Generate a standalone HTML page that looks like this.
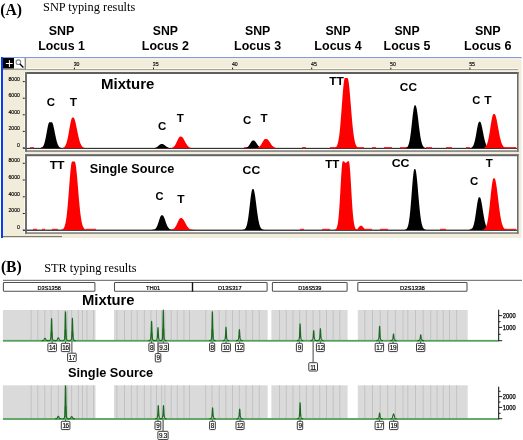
<!DOCTYPE html>
<html><head><meta charset="utf-8"><title>SNP and STR typing results</title>
<style>html,body{margin:0;padding:0;background:#fff;overflow:hidden;}svg{display:block;}</style></head>
<body><svg width="523" height="440" viewBox="0 0 523 440"><text x="0.2" y="15.2" font-family="Liberation Serif, Times New Roman, serif" font-size="16.2" font-weight="bold" text-anchor="start" fill="#000"  textLength="21.8" lengthAdjust="spacingAndGlyphs">(A)</text>
<text x="43" y="10.9" font-family="Liberation Serif, Times New Roman, serif" font-size="12.4" font-weight="normal" text-anchor="start" fill="#000"  textLength="92.3" lengthAdjust="spacingAndGlyphs">SNP typing results</text>
<text x="61.5" y="34.7" font-family="Liberation Sans, Arial, sans-serif" font-size="12.5" font-weight="bold" text-anchor="middle" fill="#000"  textLength="25.5" lengthAdjust="spacingAndGlyphs">SNP</text>
<text x="61.5" y="50.1" font-family="Liberation Sans, Arial, sans-serif" font-size="12.5" font-weight="bold" text-anchor="middle" fill="#000"  textLength="46.6" lengthAdjust="spacingAndGlyphs">Locus 1</text>
<text x="165.4" y="34.7" font-family="Liberation Sans, Arial, sans-serif" font-size="12.5" font-weight="bold" text-anchor="middle" fill="#000"  textLength="25.1" lengthAdjust="spacingAndGlyphs">SNP</text>
<text x="165.4" y="50.1" font-family="Liberation Sans, Arial, sans-serif" font-size="12.5" font-weight="bold" text-anchor="middle" fill="#000"  textLength="47.1" lengthAdjust="spacingAndGlyphs">Locus 2</text>
<text x="257.6" y="34.7" font-family="Liberation Sans, Arial, sans-serif" font-size="12.5" font-weight="bold" text-anchor="middle" fill="#000"  textLength="25.3" lengthAdjust="spacingAndGlyphs">SNP</text>
<text x="257.6" y="50.1" font-family="Liberation Sans, Arial, sans-serif" font-size="12.5" font-weight="bold" text-anchor="middle" fill="#000"  textLength="47.1" lengthAdjust="spacingAndGlyphs">Locus 3</text>
<text x="338.0" y="34.7" font-family="Liberation Sans, Arial, sans-serif" font-size="12.5" font-weight="bold" text-anchor="middle" fill="#000"  textLength="25.2" lengthAdjust="spacingAndGlyphs">SNP</text>
<text x="338.0" y="50.1" font-family="Liberation Sans, Arial, sans-serif" font-size="12.5" font-weight="bold" text-anchor="middle" fill="#000"  textLength="47.3" lengthAdjust="spacingAndGlyphs">Locus 4</text>
<text x="407.0" y="34.7" font-family="Liberation Sans, Arial, sans-serif" font-size="12.5" font-weight="bold" text-anchor="middle" fill="#000"  textLength="25.2" lengthAdjust="spacingAndGlyphs">SNP</text>
<text x="407.0" y="50.1" font-family="Liberation Sans, Arial, sans-serif" font-size="12.5" font-weight="bold" text-anchor="middle" fill="#000"  textLength="46.9" lengthAdjust="spacingAndGlyphs">Locus 5</text>
<text x="487.8" y="34.7" font-family="Liberation Sans, Arial, sans-serif" font-size="12.5" font-weight="bold" text-anchor="middle" fill="#000"  textLength="25.8" lengthAdjust="spacingAndGlyphs">SNP</text>
<text x="487.8" y="50.1" font-family="Liberation Sans, Arial, sans-serif" font-size="12.5" font-weight="bold" text-anchor="middle" fill="#000"  textLength="47.5" lengthAdjust="spacingAndGlyphs">Locus 6</text>
<rect x="1" y="57" width="520.5" height="181" fill="#F2ECDA"/>
<rect x="1" y="57" width="520.5" height="1.3" fill="#7f9be6"/>
<rect x="1" y="57" width="2" height="181" fill="#0a3cf0"/>
<rect x="3" y="58.3" width="518" height="1" fill="#fdfbe8"/>
<rect x="26" y="68" width="492" height="1" fill="#fbfbee"/>
<rect x="26" y="69" width="492" height="1.4" fill="#a3a393"/>
<rect x="26" y="70.4" width="492" height="1" fill="#fbfbee"/>
<rect x="3" y="58" width="11" height="10.6" fill="#000"/>
<rect x="5.9" y="63" width="6.8" height="1" fill="#fff"/>
<rect x="8.9" y="60.2" width="1" height="6.8" fill="#fff"/>
<rect x="14" y="58" width="11.3" height="10.6" fill="#fff"/>
<rect x="24.6" y="58" width="1.4" height="12" fill="#8a8a80"/>
<rect x="3" y="68.6" width="23" height="1.4" fill="#9a9a90"/>
<circle cx="18.4" cy="62.2" r="2.3" fill="none" stroke="#888" stroke-width="1.1"/>
<line x1="19.9" y1="64.1" x2="23.4" y2="67.4" stroke="#000" stroke-width="1.4"/>
<rect x="73.9" y="67.6" width="1" height="1.8" fill="#222"/>
<text x="73.7" y="66.1" font-family="Liberation Sans, Arial, sans-serif" font-size="5.4" font-weight="normal" text-anchor="start" fill="#000" stroke="#000" stroke-width="0.15" textLength="5.8" lengthAdjust="spacingAndGlyphs">30</text>
<rect x="153.0" y="67.6" width="1" height="1.8" fill="#222"/>
<text x="152.8" y="66.1" font-family="Liberation Sans, Arial, sans-serif" font-size="5.4" font-weight="normal" text-anchor="start" fill="#000" stroke="#000" stroke-width="0.15" textLength="5.8" lengthAdjust="spacingAndGlyphs">35</text>
<rect x="232.1" y="67.6" width="1" height="1.8" fill="#222"/>
<text x="231.9" y="66.1" font-family="Liberation Sans, Arial, sans-serif" font-size="5.4" font-weight="normal" text-anchor="start" fill="#000" stroke="#000" stroke-width="0.15" textLength="5.8" lengthAdjust="spacingAndGlyphs">40</text>
<rect x="311.2" y="67.6" width="1" height="1.8" fill="#222"/>
<text x="311.0" y="66.1" font-family="Liberation Sans, Arial, sans-serif" font-size="5.4" font-weight="normal" text-anchor="start" fill="#000" stroke="#000" stroke-width="0.15" textLength="5.8" lengthAdjust="spacingAndGlyphs">45</text>
<rect x="390.3" y="67.6" width="1" height="1.8" fill="#222"/>
<text x="390.1" y="66.1" font-family="Liberation Sans, Arial, sans-serif" font-size="5.4" font-weight="normal" text-anchor="start" fill="#000" stroke="#000" stroke-width="0.15" textLength="5.8" lengthAdjust="spacingAndGlyphs">50</text>
<rect x="469.4" y="67.6" width="1" height="1.8" fill="#222"/>
<text x="469.2" y="66.1" font-family="Liberation Sans, Arial, sans-serif" font-size="5.4" font-weight="normal" text-anchor="start" fill="#000" stroke="#000" stroke-width="0.15" textLength="5.8" lengthAdjust="spacingAndGlyphs">55</text>
<rect x="25" y="72" width="493.5" height="79.80000000000001" fill="#fff"/>
<rect x="25" y="72" width="493.5" height="2" fill="#5f5f5f"/>
<rect x="25" y="72" width="2" height="79.80000000000001" fill="#6f6f6f"/>
<rect x="517" y="72" width="1.6" height="79.80000000000001" fill="#6a6a6a"/>
<rect x="25" y="150.3" width="493.5" height="1.5" fill="#777"/>
<rect x="24" y="72" width="1" height="79.80000000000001" fill="#fbfbee"/>
<rect x="23" y="147.8" width="494" height="1" fill="#555"/>
<rect x="22.8" y="81.1" width="2" height="1" fill="#222"/>
<text x="20" y="80.5" font-family="Liberation Sans, Arial, sans-serif" font-size="5.5" font-weight="normal" text-anchor="end" fill="#000" stroke="#000" stroke-width="0.15" textLength="11.6" lengthAdjust="spacingAndGlyphs">8000</text>
<rect x="22.8" y="97.7" width="2" height="1" fill="#222"/>
<text x="20" y="97.1" font-family="Liberation Sans, Arial, sans-serif" font-size="5.5" font-weight="normal" text-anchor="end" fill="#000" stroke="#000" stroke-width="0.15" textLength="11.6" lengthAdjust="spacingAndGlyphs">6000</text>
<rect x="22.8" y="114.3" width="2" height="1" fill="#222"/>
<text x="20" y="113.7" font-family="Liberation Sans, Arial, sans-serif" font-size="5.5" font-weight="normal" text-anchor="end" fill="#000" stroke="#000" stroke-width="0.15" textLength="11.6" lengthAdjust="spacingAndGlyphs">4000</text>
<rect x="22.8" y="130.9" width="2" height="1" fill="#222"/>
<text x="20" y="130.3" font-family="Liberation Sans, Arial, sans-serif" font-size="5.5" font-weight="normal" text-anchor="end" fill="#000" stroke="#000" stroke-width="0.15" textLength="11.6" lengthAdjust="spacingAndGlyphs">2000</text>
<rect x="22.8" y="147.4" width="2" height="1" fill="#222"/>
<text x="20" y="146.8" font-family="Liberation Sans, Arial, sans-serif" font-size="5.5" font-weight="normal" text-anchor="end" fill="#000" stroke="#000" stroke-width="0.15" textLength="2.9" lengthAdjust="spacingAndGlyphs">0</text>
<rect x="25" y="154.2" width="493.5" height="79.60000000000002" fill="#fff"/>
<rect x="25" y="154.2" width="493.5" height="2" fill="#5f5f5f"/>
<rect x="25" y="154.2" width="2" height="79.60000000000002" fill="#6f6f6f"/>
<rect x="517" y="154.2" width="1.6" height="79.60000000000002" fill="#6a6a6a"/>
<rect x="25" y="232.3" width="493.5" height="1.5" fill="#777"/>
<rect x="24" y="154.2" width="1" height="79.60000000000002" fill="#fbfbee"/>
<rect x="23" y="229.8" width="494" height="1" fill="#555"/>
<rect x="22.8" y="162.8" width="2" height="1" fill="#222"/>
<text x="20" y="162.2" font-family="Liberation Sans, Arial, sans-serif" font-size="5.5" font-weight="normal" text-anchor="end" fill="#000" stroke="#000" stroke-width="0.15" textLength="11.6" lengthAdjust="spacingAndGlyphs">8000</text>
<rect x="22.8" y="179.5" width="2" height="1" fill="#222"/>
<text x="20" y="178.9" font-family="Liberation Sans, Arial, sans-serif" font-size="5.5" font-weight="normal" text-anchor="end" fill="#000" stroke="#000" stroke-width="0.15" textLength="11.6" lengthAdjust="spacingAndGlyphs">6000</text>
<rect x="22.8" y="196.3" width="2" height="1" fill="#222"/>
<text x="20" y="195.7" font-family="Liberation Sans, Arial, sans-serif" font-size="5.5" font-weight="normal" text-anchor="end" fill="#000" stroke="#000" stroke-width="0.15" textLength="11.6" lengthAdjust="spacingAndGlyphs">4000</text>
<rect x="22.8" y="213.0" width="2" height="1" fill="#222"/>
<text x="20" y="212.4" font-family="Liberation Sans, Arial, sans-serif" font-size="5.5" font-weight="normal" text-anchor="end" fill="#000" stroke="#000" stroke-width="0.15" textLength="11.6" lengthAdjust="spacingAndGlyphs">2000</text>
<rect x="22.8" y="229.6" width="2" height="1" fill="#222"/>
<text x="20" y="229.0" font-family="Liberation Sans, Arial, sans-serif" font-size="5.5" font-weight="normal" text-anchor="end" fill="#000" stroke="#000" stroke-width="0.15" textLength="2.9" lengthAdjust="spacingAndGlyphs">0</text>
<rect x="3" y="236" width="59" height="1.1" fill="#7a7a70"/>
<rect x="27" y="148.0" width="490" height="1" fill="#333"/>
<rect x="30" y="147.1" width="4" height="1.2" fill="#f02020"/>
<rect x="41" y="147.1" width="6" height="1.2" fill="#f02020"/>
<rect x="53" y="147.1" width="3" height="1.2" fill="#f02020"/>
<rect x="157" y="147.1" width="11" height="1.2" fill="#f02020"/>
<rect x="244" y="147.1" width="14" height="1.2" fill="#f02020"/>
<rect x="302" y="147.1" width="4" height="1.2" fill="#f02020"/>
<rect x="330" y="147.1" width="6" height="1.2" fill="#f02020"/>
<rect x="356" y="147.1" width="8" height="1.2" fill="#f02020"/>
<rect x="372" y="147.1" width="4" height="1.2" fill="#f02020"/>
<rect x="384" y="147.1" width="8" height="1.2" fill="#f02020"/>
<rect x="400" y="147.1" width="8" height="1.2" fill="#f02020"/>
<rect x="426" y="147.1" width="6" height="1.2" fill="#f02020"/>
<rect x="446" y="147.1" width="6" height="1.2" fill="#f02020"/>
<rect x="466" y="147.1" width="4" height="1.2" fill="#f02020"/>
<rect x="504" y="147.1" width="12" height="1.2" fill="#f02020"/>
<polygon points="62.86,148.2 39.42,148.2 39.42,148.16 39.71,148.14 40.01,148.12 40.30,148.08 40.59,148.04 40.89,147.97 41.18,147.89 41.47,147.77 41.76,147.63 42.06,147.44 42.35,147.20 42.64,146.90 42.94,146.53 43.23,146.08 43.52,145.54 43.82,144.89 44.11,144.13 44.40,143.25 44.69,142.24 44.99,141.11 45.28,139.85 45.57,138.48 45.87,137.00 46.16,135.44 46.45,133.82 46.75,132.18 47.04,130.54 47.33,128.94 47.62,127.43 47.92,126.04 48.21,124.82 48.50,123.80 48.80,123.01 49.09,122.48 49.38,122.22 49.68,122.20 49.97,122.20 50.26,122.20 50.55,122.20 50.85,122.20 51.14,122.20 51.43,122.20 51.73,122.20 52.02,122.34 52.31,122.70 52.61,123.28 52.90,124.07 53.19,125.04 53.48,126.17 53.78,127.43 54.07,128.79 54.36,130.22 54.66,131.70 54.95,133.19 55.24,134.66 55.54,136.10 55.83,137.49 56.12,138.80 56.41,140.02 56.71,141.15 57.00,142.17 57.29,143.09 57.59,143.91 57.88,144.63 58.17,145.26 58.47,145.80 58.76,146.25 59.05,146.64 59.34,146.96 59.64,147.22 59.93,147.43 60.22,147.61 60.52,147.74 60.81,147.85 61.10,147.94 61.40,148.00 61.69,148.06 61.98,148.09 62.27,148.12 62.57,148.14 62.86,148.16" fill="#000"/>
<polygon points="86.62,148.2 60.98,148.2 60.98,148.15 61.30,148.13 61.62,148.11 61.94,148.07 62.26,148.02 62.58,147.95 62.90,147.86 63.22,147.74 63.54,147.59 63.86,147.40 64.19,147.15 64.51,146.85 64.83,146.47 65.15,146.01 65.47,145.46 65.79,144.80 66.11,144.02 66.43,143.13 66.75,142.09 67.07,140.93 67.39,139.62 67.71,138.18 68.03,136.62 68.35,134.95 68.67,133.19 68.99,131.36 69.31,129.50 69.63,127.65 69.95,125.83 70.27,124.09 70.59,122.49 70.92,121.04 71.24,119.80 71.56,118.81 71.88,118.08 72.20,117.64 72.52,117.50 72.84,117.50 73.16,117.50 73.48,117.54 73.80,117.78 74.12,118.25 74.44,118.93 74.76,119.80 75.08,120.86 75.40,122.08 75.72,123.42 76.04,124.88 76.36,126.41 76.68,128.00 77.00,129.60 77.33,131.21 77.65,132.80 77.97,134.34 78.29,135.82 78.61,137.23 78.93,138.55 79.25,139.77 79.57,140.89 79.89,141.91 80.21,142.83 80.53,143.65 80.85,144.37 81.17,145.01 81.49,145.55 81.81,146.02 82.13,146.42 82.45,146.76 82.77,147.04 83.09,147.28 83.42,147.47 83.74,147.62 84.06,147.75 84.38,147.85 84.70,147.93 85.02,148.00 85.34,148.05 85.66,148.08 85.98,148.11 86.30,148.14 86.62,148.15" fill="#ff0000"/>
<polygon points="173.26,148.2 151.42,148.2 151.42,148.19 151.69,148.19 151.97,148.19 152.24,148.18 152.51,148.18 152.78,148.17 153.06,148.16 153.33,148.14 153.60,148.12 153.88,148.10 154.15,148.07 154.42,148.03 154.70,147.98 154.97,147.92 155.24,147.85 155.51,147.77 155.79,147.68 156.06,147.56 156.33,147.43 156.61,147.29 156.88,147.12 157.15,146.94 157.43,146.74 157.70,146.53 157.97,146.30 158.25,146.06 158.52,145.82 158.79,145.57 159.06,145.32 159.34,145.08 159.61,144.86 159.88,144.65 160.16,144.46 160.43,144.30 160.70,144.17 160.97,144.07 161.25,144.02 161.52,144.00 161.79,144.00 162.07,144.00 162.34,144.01 162.61,144.06 162.89,144.13 163.16,144.24 163.43,144.37 163.71,144.53 163.98,144.70 164.25,144.90 164.52,145.11 164.80,145.32 165.07,145.55 165.34,145.77 165.62,145.99 165.89,146.21 166.16,146.42 166.44,146.62 166.71,146.81 166.98,146.98 167.25,147.15 167.53,147.29 167.80,147.43 168.07,147.54 168.35,147.65 168.62,147.74 168.89,147.82 169.17,147.89 169.44,147.94 169.71,147.99 169.98,148.03 170.26,148.07 170.53,148.10 170.80,148.12 171.08,148.14 171.35,148.15 171.62,148.16 171.90,148.17 172.17,148.18 172.44,148.18 172.71,148.19 172.99,148.19 173.26,148.19" fill="#000"/>
<polygon points="194.42,148.2 168.78,148.2 168.78,148.18 169.10,148.17 169.42,148.16 169.74,148.15 170.06,148.13 170.38,148.10 170.70,148.07 171.02,148.03 171.34,147.97 171.66,147.90 171.98,147.80 172.31,147.69 172.63,147.55 172.95,147.37 173.27,147.16 173.59,146.91 173.91,146.62 174.23,146.28 174.55,145.89 174.87,145.45 175.19,144.96 175.51,144.42 175.83,143.83 176.15,143.19 176.47,142.53 176.79,141.84 177.11,141.14 177.43,140.43 177.75,139.75 178.07,139.09 178.39,138.48 178.72,137.94 179.04,137.47 179.36,137.09 179.68,136.82 180.00,136.65 180.32,136.60 180.64,136.60 180.96,136.60 181.28,136.61 181.60,136.71 181.92,136.88 182.24,137.14 182.56,137.47 182.88,137.87 183.20,138.33 183.52,138.84 183.84,139.39 184.16,139.97 184.48,140.57 184.80,141.17 185.13,141.78 185.45,142.38 185.77,142.96 186.09,143.52 186.41,144.05 186.73,144.55 187.05,145.01 187.37,145.44 187.69,145.82 188.01,146.17 188.33,146.48 188.65,146.75 188.97,146.99 189.29,147.20 189.61,147.38 189.93,147.53 190.25,147.66 190.57,147.76 190.89,147.85 191.21,147.92 191.54,147.98 191.86,148.03 192.18,148.07 192.50,148.10 192.82,148.12 193.14,148.14 193.46,148.16 193.78,148.17 194.10,148.18 194.42,148.18" fill="#ff0000"/>
<polygon points="264.76,148.2 242.92,148.2 242.92,148.19 243.19,148.18 243.47,148.18 243.74,148.17 244.01,148.16 244.28,148.14 244.56,148.12 244.83,148.09 245.10,148.06 245.38,148.01 245.65,147.95 245.92,147.88 246.20,147.80 246.47,147.69 246.74,147.57 247.01,147.42 247.29,147.24 247.56,147.03 247.83,146.80 248.11,146.53 248.38,146.23 248.65,145.89 248.93,145.53 249.20,145.14 249.47,144.72 249.75,144.28 250.02,143.83 250.29,143.38 250.56,142.93 250.84,142.49 251.11,142.07 251.38,141.68 251.66,141.34 251.93,141.04 252.20,140.81 252.48,140.63 252.75,140.53 253.02,140.50 253.29,140.50 253.57,140.50 253.84,140.52 254.11,140.60 254.39,140.74 254.66,140.94 254.93,141.18 255.21,141.47 255.48,141.79 255.75,142.15 256.02,142.53 256.30,142.93 256.57,143.33 256.84,143.74 257.12,144.15 257.39,144.55 257.66,144.94 257.94,145.30 258.21,145.65 258.48,145.97 258.75,146.27 259.03,146.54 259.30,146.78 259.57,147.00 259.85,147.19 260.12,147.36 260.39,147.50 260.67,147.63 260.94,147.73 261.21,147.82 261.48,147.90 261.76,147.96 262.03,148.01 262.30,148.05 262.58,148.08 262.85,148.11 263.12,148.13 263.40,148.15 263.67,148.16 263.94,148.17 264.21,148.18 264.49,148.18 264.76,148.19" fill="#000"/>
<polygon points="279.62,148.2 253.98,148.2 253.98,148.19 254.30,148.18 254.62,148.17 254.94,148.16 255.26,148.14 255.58,148.12 255.90,148.10 256.22,148.06 256.54,148.01 256.86,147.96 257.18,147.88 257.51,147.79 257.83,147.68 258.15,147.54 258.47,147.37 258.79,147.17 259.11,146.94 259.43,146.66 259.75,146.35 260.07,146.00 260.39,145.60 260.71,145.17 261.03,144.69 261.35,144.19 261.67,143.65 261.99,143.10 262.31,142.54 262.63,141.97 262.95,141.42 263.27,140.90 263.59,140.41 263.92,139.97 264.24,139.60 264.56,139.30 264.88,139.07 265.20,138.94 265.52,138.90 265.84,138.90 266.16,138.90 266.48,138.91 266.80,138.98 267.12,139.13 267.44,139.33 267.76,139.60 268.08,139.92 268.40,140.29 268.72,140.69 269.04,141.14 269.36,141.60 269.68,142.08 270.00,142.57 270.33,143.05 270.65,143.53 270.97,144.00 271.29,144.45 271.61,144.88 271.93,145.28 272.25,145.65 272.57,145.99 272.89,146.30 273.21,146.57 273.53,146.82 273.85,147.04 274.17,147.23 274.49,147.40 274.81,147.54 275.13,147.66 275.45,147.76 275.77,147.85 276.09,147.92 276.41,147.98 276.74,148.03 277.06,148.06 277.38,148.09 277.70,148.12 278.02,148.14 278.34,148.15 278.66,148.16 278.98,148.17 279.30,148.18 279.62,148.19" fill="#ff0000"/>
<polygon points="359.69,148.2 333.79,148.2 333.79,148.09 334.11,148.04 334.44,147.98 334.76,147.88 335.08,147.76 335.41,147.58 335.73,147.35 336.06,147.05 336.38,146.66 336.70,146.16 337.03,145.52 337.35,144.71 337.67,143.72 338.00,142.51 338.32,141.05 338.65,139.31 338.97,137.26 339.29,134.89 339.62,132.19 339.94,129.14 340.26,125.76 340.59,122.07 340.91,118.10 341.24,113.90 341.56,109.54 341.88,105.10 342.21,100.67 342.53,96.35 342.85,92.25 343.18,88.49 343.50,85.16 343.83,82.37 344.15,80.20 344.47,78.72 344.80,77.99 345.12,77.90 345.44,77.90 345.77,77.90 346.09,77.90 346.42,77.90 346.74,77.90 347.06,77.90 347.39,77.90 347.71,78.11 348.03,78.93 348.36,80.37 348.68,82.37 349.01,84.89 349.33,87.87 349.65,91.22 349.98,94.87 350.30,98.74 350.62,102.74 350.95,106.80 351.27,110.83 351.60,114.78 351.92,118.58 352.24,122.18 352.57,125.55 352.89,128.67 353.21,131.50 353.54,134.06 353.86,136.33 354.19,138.32 354.51,140.06 354.83,141.55 355.16,142.82 355.48,143.88 355.81,144.77 356.13,145.50 356.45,146.09 356.78,146.57 357.10,146.95 357.42,147.25 357.75,147.48 358.07,147.67 358.39,147.80 358.72,147.91 359.04,147.99 359.37,148.05 359.69,148.09" fill="#ff0000"/>
<polygon points="426.56,148.2 404.72,148.2 404.72,148.13 404.99,148.11 405.27,148.07 405.54,148.02 405.81,147.95 406.09,147.86 406.36,147.74 406.63,147.59 406.90,147.40 407.18,147.15 407.45,146.83 407.72,146.44 408.00,145.96 408.27,145.37 408.54,144.67 408.82,143.83 409.09,142.84 409.36,141.70 409.63,140.38 409.91,138.88 410.18,137.20 410.45,135.34 410.73,133.31 411.00,131.13 411.27,128.80 411.55,126.37 411.82,123.87 412.09,121.33 412.36,118.82 412.64,116.37 412.91,114.04 413.18,111.89 413.46,109.97 413.73,108.33 414.00,107.01 414.28,106.05 414.55,105.47 414.82,105.30 415.09,105.30 415.37,105.30 415.64,105.43 415.91,105.88 416.19,106.66 416.46,107.73 416.73,109.08 417.01,110.68 417.28,112.49 417.55,114.48 417.82,116.60 418.10,118.82 418.37,121.09 418.64,123.38 418.92,125.65 419.19,127.87 419.46,130.02 419.74,132.06 420.01,133.99 420.28,135.78 420.55,137.43 420.83,138.93 421.10,140.29 421.37,141.50 421.65,142.56 421.92,143.50 422.19,144.31 422.47,145.00 422.74,145.60 423.01,146.09 423.28,146.51 423.56,146.85 423.83,147.14 424.10,147.37 424.38,147.55 424.65,147.70 424.92,147.82 425.20,147.91 425.47,147.98 425.74,148.04 426.01,148.08 426.29,148.11 426.56,148.13" fill="#000"/>
<polygon points="491.06,148.2 469.22,148.2 469.22,148.16 469.49,148.14 469.77,148.12 470.04,148.09 470.31,148.05 470.59,147.99 470.86,147.92 471.13,147.82 471.40,147.70 471.68,147.55 471.95,147.35 472.22,147.11 472.50,146.82 472.77,146.45 473.04,146.02 473.32,145.50 473.59,144.89 473.86,144.18 474.13,143.37 474.41,142.44 474.68,141.41 474.95,140.26 475.23,139.01 475.50,137.65 475.77,136.22 476.05,134.72 476.32,133.17 476.59,131.60 476.86,130.05 477.14,128.54 477.41,127.10 477.68,125.77 477.96,124.58 478.23,123.57 478.50,122.75 478.78,122.16 479.05,121.81 479.32,121.70 479.59,121.70 479.87,121.70 480.14,121.78 480.41,122.06 480.69,122.54 480.96,123.20 481.23,124.04 481.51,125.02 481.78,126.14 482.05,127.37 482.32,128.68 482.60,130.05 482.87,131.45 483.14,132.87 483.42,134.27 483.69,135.64 483.96,136.97 484.24,138.23 484.51,139.42 484.78,140.53 485.05,141.55 485.33,142.48 485.60,143.31 485.87,144.06 486.15,144.72 486.42,145.30 486.69,145.80 486.97,146.23 487.24,146.59 487.51,146.90 487.78,147.16 488.06,147.37 488.33,147.54 488.60,147.69 488.88,147.80 489.15,147.89 489.42,147.96 489.70,148.02 489.97,148.06 490.24,148.10 490.51,148.12 490.79,148.14 491.06,148.16" fill="#000"/>
<polygon points="507.72,148.2 482.08,148.2 482.08,148.15 482.40,148.13 482.72,148.09 483.04,148.05 483.36,148.00 483.68,147.92 484.00,147.82 484.32,147.69 484.64,147.52 484.96,147.30 485.29,147.03 485.61,146.69 485.93,146.27 486.25,145.76 486.57,145.14 486.89,144.41 487.21,143.55 487.53,142.55 487.85,141.40 488.17,140.10 488.49,138.64 488.81,137.04 489.13,135.30 489.45,133.44 489.77,131.48 490.09,129.44 490.41,127.37 490.73,125.30 491.05,123.28 491.37,121.35 491.69,119.55 492.02,117.95 492.34,116.57 492.66,115.45 492.98,114.64 493.30,114.15 493.62,114.00 493.94,114.00 494.26,114.00 494.58,114.04 494.90,114.31 495.22,114.83 495.54,115.59 495.86,116.57 496.18,117.75 496.50,119.10 496.82,120.60 497.14,122.22 497.46,123.93 497.78,125.69 498.11,127.48 498.43,129.28 498.75,131.04 499.07,132.76 499.39,134.41 499.71,135.98 500.03,137.44 500.35,138.81 500.67,140.06 500.99,141.20 501.31,142.22 501.63,143.13 501.95,143.94 502.27,144.64 502.59,145.25 502.91,145.78 503.23,146.22 503.55,146.60 503.87,146.91 504.19,147.17 504.51,147.38 504.84,147.56 505.16,147.70 505.48,147.81 505.80,147.90 506.12,147.97 506.44,148.03 506.76,148.07 507.08,148.10 507.40,148.13 507.72,148.15" fill="#ff0000"/>
<rect x="27" y="229.70000000000002" width="490" height="1" fill="#333"/>
<rect x="33" y="228.8" width="4" height="1.2" fill="#f02020"/>
<rect x="42" y="228.8" width="3" height="1.2" fill="#f02020"/>
<rect x="52" y="228.8" width="6" height="1.2" fill="#f02020"/>
<rect x="86" y="228.8" width="10" height="1.2" fill="#f02020"/>
<rect x="156" y="228.8" width="12" height="1.2" fill="#f02020"/>
<rect x="246" y="228.8" width="14" height="1.2" fill="#f02020"/>
<rect x="300" y="228.8" width="4" height="1.2" fill="#f02020"/>
<rect x="322" y="228.8" width="8" height="1.2" fill="#f02020"/>
<rect x="364" y="228.8" width="8" height="1.2" fill="#f02020"/>
<rect x="380" y="228.8" width="8" height="1.2" fill="#f02020"/>
<rect x="408" y="228.8" width="14" height="1.2" fill="#f02020"/>
<rect x="440" y="228.8" width="6" height="1.2" fill="#f02020"/>
<rect x="470" y="228.8" width="6" height="1.2" fill="#f02020"/>
<rect x="505" y="228.8" width="11" height="1.2" fill="#f02020"/>
<polygon points="86.89,229.9 60.99,229.9 60.99,229.80 61.31,229.75 61.64,229.68 61.96,229.59 62.29,229.47 62.61,229.30 62.93,229.08 63.26,228.78 63.58,228.40 63.90,227.91 64.23,227.29 64.55,226.51 64.88,225.54 65.20,224.36 65.52,222.94 65.85,221.25 66.17,219.26 66.49,216.95 66.82,214.32 67.14,211.36 67.47,208.07 67.79,204.47 68.11,200.61 68.44,196.53 68.76,192.28 69.08,187.96 69.41,183.65 69.73,179.45 70.06,175.46 70.38,171.80 70.70,168.56 71.03,165.85 71.35,163.74 71.67,162.30 72.00,161.58 72.32,161.50 72.65,161.50 72.97,161.50 73.29,161.50 73.62,161.50 73.94,161.50 74.26,161.50 74.59,161.50 74.91,161.70 75.23,162.51 75.56,163.90 75.88,165.85 76.21,168.30 76.53,171.20 76.85,174.46 77.18,178.01 77.50,181.78 77.83,185.67 78.15,189.62 78.47,193.54 78.80,197.38 79.12,201.08 79.44,204.58 79.77,207.86 80.09,210.89 80.42,213.65 80.74,216.14 81.06,218.35 81.39,220.29 81.71,221.98 82.03,223.43 82.36,224.66 82.68,225.70 83.00,226.56 83.33,227.27 83.65,227.85 83.98,228.31 84.30,228.68 84.62,228.97 84.95,229.20 85.27,229.38 85.59,229.52 85.92,229.62 86.24,229.70 86.57,229.75 86.89,229.80" fill="#ff0000"/>
<polygon points="173.46,229.9 151.62,229.9 151.62,229.88 151.89,229.87 152.17,229.86 152.44,229.84 152.71,229.81 152.98,229.78 153.26,229.74 153.53,229.69 153.80,229.62 154.08,229.54 154.35,229.43 154.62,229.30 154.90,229.13 155.17,228.93 155.44,228.69 155.71,228.40 155.99,228.06 156.26,227.67 156.53,227.22 156.81,226.71 157.08,226.13 157.35,225.50 157.63,224.80 157.90,224.05 158.17,223.25 158.44,222.42 158.72,221.56 158.99,220.69 159.26,219.83 159.54,218.99 159.81,218.19 160.08,217.46 160.36,216.80 160.63,216.24 160.90,215.79 161.17,215.46 161.45,215.26 161.72,215.20 161.99,215.20 162.27,215.20 162.54,215.24 162.81,215.40 163.09,215.66 163.36,216.03 163.63,216.50 163.91,217.04 164.18,217.66 164.45,218.34 164.72,219.07 165.00,219.83 165.27,220.61 165.54,221.39 165.82,222.17 166.09,222.94 166.36,223.67 166.63,224.37 166.91,225.03 167.18,225.64 167.45,226.21 167.73,226.72 168.00,227.19 168.27,227.60 168.55,227.97 168.82,228.29 169.09,228.57 169.37,228.80 169.64,229.01 169.91,229.18 170.18,229.32 170.46,229.44 170.73,229.54 171.00,229.61 171.28,229.68 171.55,229.73 171.82,229.77 172.09,229.80 172.37,229.82 172.64,229.84 172.91,229.86 173.19,229.87 173.46,229.88" fill="#000"/>
<polygon points="194.82,229.9 169.18,229.9 169.18,229.88 169.50,229.87 169.82,229.86 170.14,229.85 170.46,229.83 170.78,229.80 171.10,229.77 171.42,229.72 171.74,229.67 172.06,229.59 172.38,229.50 172.71,229.38 173.03,229.23 173.35,229.06 173.67,228.85 173.99,228.59 174.31,228.30 174.63,227.95 174.95,227.55 175.27,227.10 175.59,226.60 175.91,226.05 176.23,225.45 176.55,224.81 176.87,224.13 177.19,223.43 177.51,222.71 177.83,222.00 178.15,221.30 178.47,220.63 178.79,220.02 179.12,219.46 179.44,218.99 179.76,218.60 180.08,218.32 180.40,218.15 180.72,218.10 181.04,218.10 181.36,218.10 181.68,218.11 182.00,218.21 182.32,218.39 182.64,218.65 182.96,218.99 183.28,219.39 183.60,219.86 183.92,220.38 184.24,220.94 184.56,221.53 184.88,222.13 185.20,222.75 185.53,223.37 185.85,223.98 186.17,224.57 186.49,225.14 186.81,225.68 187.13,226.19 187.45,226.66 187.77,227.09 188.09,227.48 188.41,227.84 188.73,228.15 189.05,228.43 189.37,228.67 189.69,228.88 190.01,229.06 190.33,229.22 190.65,229.35 190.97,229.46 191.29,229.54 191.61,229.62 191.94,229.68 192.26,229.73 192.58,229.77 192.90,229.80 193.22,229.82 193.54,229.84 193.86,229.86 194.18,229.87 194.50,229.88 194.82,229.88" fill="#ff0000"/>
<polygon points="264.36,229.9 242.52,229.9 242.52,229.84 242.79,229.81 243.07,229.78 243.34,229.73 243.61,229.66 243.88,229.58 244.16,229.47 244.43,229.32 244.70,229.13 244.98,228.89 245.25,228.60 245.52,228.22 245.80,227.76 246.07,227.21 246.34,226.53 246.61,225.74 246.89,224.79 247.16,223.70 247.43,222.44 247.71,221.02 247.98,219.42 248.25,217.64 248.53,215.71 248.80,213.62 249.07,211.41 249.34,209.09 249.62,206.70 249.89,204.29 250.16,201.89 250.44,199.55 250.71,197.33 250.98,195.28 251.26,193.45 251.53,191.89 251.80,190.63 252.07,189.71 252.35,189.17 252.62,189.00 252.89,189.00 253.17,189.00 253.44,189.12 253.71,189.56 253.99,190.29 254.26,191.32 254.53,192.61 254.81,194.13 255.08,195.86 255.35,197.75 255.62,199.77 255.90,201.89 256.17,204.05 256.44,206.24 256.72,208.40 256.99,210.52 257.26,212.57 257.54,214.52 257.81,216.35 258.08,218.06 258.35,219.63 258.63,221.06 258.90,222.36 259.17,223.51 259.45,224.53 259.72,225.42 259.99,226.19 260.26,226.85 260.54,227.42 260.81,227.89 261.08,228.29 261.36,228.62 261.63,228.89 261.90,229.11 262.18,229.28 262.45,229.42 262.72,229.53 263.00,229.62 263.27,229.69 263.54,229.74 263.81,229.78 264.09,229.81 264.36,229.84" fill="#000"/>
<polygon points="357.44,229.9 334.52,229.9 334.52,229.79 334.81,229.74 335.09,229.65 335.38,229.52 335.67,229.34 335.95,229.08 336.24,228.73 336.53,228.24 336.81,227.58 337.10,226.72 337.39,225.60 337.67,224.18 337.96,222.41 338.24,220.24 338.53,217.63 338.82,214.56 339.10,211.01 339.39,207.00 339.68,202.57 339.96,197.79 340.25,192.74 340.54,187.57 340.82,182.42 341.11,177.46 341.40,172.88 341.68,168.85 341.97,165.54 342.26,163.10 342.54,161.63 342.83,161.21 343.12,161.22 343.40,161.25 343.69,161.31 343.97,161.43 344.26,161.62 344.55,161.88 344.83,162.21 345.12,162.55 345.41,162.84 345.69,162.99 345.98,162.96 346.27,162.77 346.55,162.47 346.84,162.12 347.13,161.81 347.41,161.56 347.70,161.39 347.99,161.29 348.27,161.24 348.56,161.22 348.85,161.22 349.13,161.85 349.42,163.44 349.70,165.91 349.99,169.16 350.28,173.06 350.56,177.46 350.85,182.21 351.14,187.14 351.42,192.10 351.71,196.96 352.00,201.60 352.28,205.93 352.57,209.89 352.86,213.43 353.14,216.53 353.43,219.21 353.72,221.47 354.00,223.34 354.29,224.87 354.57,226.10 354.86,227.07 355.15,227.82 355.43,228.39 355.72,228.83 356.01,229.14 356.29,229.38 356.58,229.54 356.87,229.66 357.15,229.74 357.44,229.79" fill="#ff0000"/>
<polygon points="367.98,229.9 354.02,229.9 354.02,229.89 354.19,229.89 354.37,229.89 354.54,229.88 354.72,229.88 354.89,229.87 355.07,229.86 355.24,229.84 355.42,229.82 355.59,229.80 355.76,229.77 355.94,229.73 356.11,229.69 356.29,229.63 356.46,229.57 356.64,229.49 356.81,229.40 356.99,229.29 357.16,229.17 357.34,229.03 357.51,228.87 357.68,228.69 357.86,228.50 358.03,228.30 358.21,228.08 358.38,227.85 358.56,227.61 358.73,227.37 358.91,227.13 359.08,226.90 359.25,226.67 359.43,226.46 359.60,226.28 359.78,226.12 359.95,225.99 360.13,225.89 360.30,225.82 360.48,225.80 360.65,225.80 360.83,225.80 361.00,225.80 361.17,225.80 361.35,225.80 361.52,225.80 361.70,225.82 361.87,225.89 362.05,225.99 362.22,226.12 362.40,226.28 362.57,226.46 362.75,226.67 362.92,226.90 363.09,227.13 363.27,227.37 363.44,227.61 363.62,227.85 363.79,228.08 363.97,228.30 364.14,228.50 364.32,228.69 364.49,228.87 364.66,229.03 364.84,229.17 365.01,229.29 365.19,229.40 365.36,229.49 365.54,229.57 365.71,229.63 365.89,229.69 366.06,229.73 366.24,229.77 366.41,229.80 366.58,229.82 366.76,229.84 366.93,229.86 367.11,229.87 367.28,229.88 367.46,229.88 367.63,229.89 367.81,229.89 367.98,229.89" fill="#ff0000"/>
<polygon points="426.26,229.9 404.42,229.9 404.42,229.81 404.69,229.77 404.97,229.72 405.24,229.64 405.51,229.55 405.79,229.42 406.06,229.25 406.33,229.04 406.60,228.76 406.88,228.40 407.15,227.96 407.42,227.40 407.70,226.72 407.97,225.89 408.24,224.89 408.52,223.70 408.79,222.30 409.06,220.67 409.33,218.80 409.61,216.67 409.88,214.29 410.15,211.65 410.43,208.77 410.70,205.66 410.97,202.37 411.25,198.91 411.52,195.36 411.79,191.76 412.06,188.19 412.34,184.71 412.61,181.41 412.88,178.35 413.16,175.63 413.43,173.30 413.70,171.42 413.98,170.06 414.25,169.25 414.52,169.00 414.79,169.00 415.07,169.00 415.34,169.18 415.61,169.83 415.89,170.93 416.16,172.45 416.43,174.37 416.71,176.64 416.98,179.21 417.25,182.03 417.52,185.04 417.80,188.19 418.07,191.41 418.34,194.66 418.62,197.89 418.89,201.05 419.16,204.09 419.44,206.99 419.71,209.72 419.98,212.27 420.25,214.61 420.53,216.74 420.80,218.67 421.07,220.38 421.35,221.90 421.62,223.23 421.89,224.38 422.17,225.36 422.44,226.20 422.71,226.91 422.98,227.50 423.26,227.99 423.53,228.39 423.80,228.72 424.08,228.98 424.35,229.19 424.62,229.36 424.90,229.49 425.17,229.59 425.44,229.67 425.71,229.73 425.99,229.77 426.26,229.81" fill="#000"/>
<polygon points="490.86,229.9 469.02,229.9 469.02,229.85 469.29,229.83 469.57,229.80 469.84,229.76 470.11,229.71 470.38,229.64 470.66,229.55 470.93,229.44 471.20,229.29 471.48,229.10 471.75,228.86 472.02,228.56 472.30,228.19 472.57,227.75 472.84,227.21 473.12,226.57 473.39,225.82 473.66,224.94 473.93,223.94 474.21,222.80 474.48,221.52 474.75,220.10 475.03,218.55 475.30,216.89 475.57,215.12 475.84,213.26 476.12,211.35 476.39,209.42 476.66,207.50 476.94,205.64 477.21,203.86 477.48,202.22 477.76,200.76 478.03,199.51 478.30,198.50 478.57,197.77 478.85,197.33 479.12,197.20 479.39,197.20 479.67,197.20 479.94,197.30 480.21,197.64 480.49,198.23 480.76,199.05 481.03,200.08 481.31,201.30 481.58,202.68 481.85,204.20 482.12,205.81 482.40,207.50 482.67,209.24 482.94,210.98 483.22,212.71 483.49,214.41 483.76,216.04 484.04,217.60 484.31,219.07 484.58,220.43 484.85,221.69 485.13,222.84 485.40,223.87 485.67,224.79 485.95,225.60 486.22,226.32 486.49,226.93 486.76,227.46 487.04,227.91 487.31,228.29 487.58,228.61 487.86,228.87 488.13,229.09 488.40,229.26 488.68,229.41 488.95,229.52 489.22,229.61 489.50,229.68 489.77,229.73 490.04,229.77 490.31,229.81 490.59,229.83 490.86,229.85" fill="#000"/>
<polygon points="507.72,229.9 482.08,229.9 482.08,229.82 482.40,229.79 482.72,229.74 483.04,229.68 483.36,229.59 483.68,229.48 484.00,229.33 484.32,229.13 484.64,228.87 484.96,228.55 485.29,228.14 485.61,227.62 485.93,226.99 486.25,226.22 486.57,225.29 486.89,224.18 487.21,222.88 487.53,221.37 487.85,219.64 488.17,217.67 488.49,215.48 488.81,213.07 489.13,210.44 489.45,207.63 489.77,204.67 490.09,201.60 490.41,198.48 490.73,195.35 491.05,192.30 491.37,189.38 491.69,186.68 492.02,184.25 492.34,182.17 492.66,180.49 492.98,179.27 493.30,178.53 493.62,178.30 493.94,178.30 494.26,178.30 494.58,178.36 494.90,178.77 495.22,179.55 495.54,180.70 495.86,182.17 496.18,183.95 496.50,185.99 496.82,188.26 497.14,190.70 497.46,193.28 497.78,195.94 498.11,198.65 498.43,201.35 498.75,204.01 499.07,206.61 499.39,209.10 499.71,211.46 500.03,213.67 500.35,215.73 500.67,217.62 500.99,219.33 501.31,220.88 501.63,222.25 501.95,223.47 502.27,224.53 502.59,225.45 502.91,226.24 503.23,226.91 503.55,227.48 503.87,227.95 504.19,228.35 504.51,228.67 504.84,228.93 505.16,229.15 505.48,229.32 505.80,229.45 506.12,229.56 506.44,229.64 506.76,229.70 507.08,229.75 507.40,229.79 507.72,229.82" fill="#ff0000"/>
<text x="50.8" y="106" font-family="Liberation Sans, Arial, sans-serif" font-size="11.8" font-weight="bold" text-anchor="middle" fill="#000"  textLength="8.3" lengthAdjust="spacingAndGlyphs">C</text>
<text x="73.4" y="106" font-family="Liberation Sans, Arial, sans-serif" font-size="11.8" font-weight="bold" text-anchor="middle" fill="#000"  textLength="7.3" lengthAdjust="spacingAndGlyphs">T</text>
<text x="162.2" y="129.7" font-family="Liberation Sans, Arial, sans-serif" font-size="11.8" font-weight="bold" text-anchor="middle" fill="#000"  textLength="8.3" lengthAdjust="spacingAndGlyphs">C</text>
<text x="180.4" y="122" font-family="Liberation Sans, Arial, sans-serif" font-size="11.8" font-weight="bold" text-anchor="middle" fill="#000"  textLength="7.1" lengthAdjust="spacingAndGlyphs">T</text>
<text x="247.2" y="123.9" font-family="Liberation Sans, Arial, sans-serif" font-size="11.8" font-weight="bold" text-anchor="middle" fill="#000"  textLength="8.3" lengthAdjust="spacingAndGlyphs">C</text>
<text x="264.1" y="122" font-family="Liberation Sans, Arial, sans-serif" font-size="11.8" font-weight="bold" text-anchor="middle" fill="#000"  textLength="7.1" lengthAdjust="spacingAndGlyphs">T</text>
<text x="336.6" y="85.3" font-family="Liberation Sans, Arial, sans-serif" font-size="11.8" font-weight="bold" text-anchor="middle" fill="#000"  textLength="14.7" lengthAdjust="spacingAndGlyphs">TT</text>
<text x="408.4" y="91.1" font-family="Liberation Sans, Arial, sans-serif" font-size="11.8" font-weight="bold" text-anchor="middle" fill="#000"  textLength="17.1" lengthAdjust="spacingAndGlyphs">CC</text>
<text x="476.4" y="103.7" font-family="Liberation Sans, Arial, sans-serif" font-size="11.8" font-weight="bold" text-anchor="middle" fill="#000"  textLength="8.1" lengthAdjust="spacingAndGlyphs">C</text>
<text x="488.0" y="103.7" font-family="Liberation Sans, Arial, sans-serif" font-size="11.8" font-weight="bold" text-anchor="middle" fill="#000"  textLength="7.3" lengthAdjust="spacingAndGlyphs">T</text>
<text x="57.1" y="168.6" font-family="Liberation Sans, Arial, sans-serif" font-size="11.8" font-weight="bold" text-anchor="middle" fill="#000"  textLength="14.9" lengthAdjust="spacingAndGlyphs">TT</text>
<text x="159.4" y="200.2" font-family="Liberation Sans, Arial, sans-serif" font-size="11.8" font-weight="bold" text-anchor="middle" fill="#000"  textLength="8.0" lengthAdjust="spacingAndGlyphs">C</text>
<text x="180.8" y="203.1" font-family="Liberation Sans, Arial, sans-serif" font-size="11.8" font-weight="bold" text-anchor="middle" fill="#000"  textLength="7.3" lengthAdjust="spacingAndGlyphs">T</text>
<text x="251.4" y="173.7" font-family="Liberation Sans, Arial, sans-serif" font-size="11.8" font-weight="bold" text-anchor="middle" fill="#000"  textLength="17.6" lengthAdjust="spacingAndGlyphs">CC</text>
<text x="332.3" y="167.5" font-family="Liberation Sans, Arial, sans-serif" font-size="11.8" font-weight="bold" text-anchor="middle" fill="#000"  textLength="14.2" lengthAdjust="spacingAndGlyphs">TT</text>
<text x="400.6" y="166.8" font-family="Liberation Sans, Arial, sans-serif" font-size="11.8" font-weight="bold" text-anchor="middle" fill="#000"  textLength="17.9" lengthAdjust="spacingAndGlyphs">CC</text>
<text x="474.2" y="184.8" font-family="Liberation Sans, Arial, sans-serif" font-size="11.8" font-weight="bold" text-anchor="middle" fill="#000"  textLength="8.3" lengthAdjust="spacingAndGlyphs">C</text>
<text x="489.4" y="167.1" font-family="Liberation Sans, Arial, sans-serif" font-size="11.8" font-weight="bold" text-anchor="middle" fill="#000"  textLength="7.1" lengthAdjust="spacingAndGlyphs">T</text>
<text x="101" y="88.9" font-family="Liberation Sans, Arial, sans-serif" font-size="15.2" font-weight="bold" text-anchor="start" fill="#000"  textLength="53.3" lengthAdjust="spacingAndGlyphs">Mixture</text>
<text x="89.8" y="172.6" font-family="Liberation Sans, Arial, sans-serif" font-size="12.7" font-weight="bold" text-anchor="start" fill="#000"  textLength="84.5" lengthAdjust="spacingAndGlyphs">Single Source</text>
<text x="0.9" y="272.3" font-family="Liberation Serif, Times New Roman, serif" font-size="16" font-weight="bold" text-anchor="start" fill="#000"  textLength="20.8" lengthAdjust="spacingAndGlyphs">(B)</text>
<text x="44.2" y="272.4" font-family="Liberation Serif, Times New Roman, serif" font-size="12.3" font-weight="normal" text-anchor="start" fill="#000"  textLength="92.3" lengthAdjust="spacingAndGlyphs">STR typing results</text>
<rect x="3" y="279.8" width="519" height="1.1" fill="#707070"/>
<rect x="3.4" y="282.5" width="91.5" height="8.8" rx="0.8" fill="#fff" stroke="#505050" stroke-width="1.05"/>
<text x="49.2" y="289.7" font-family="Liberation Sans, Arial, sans-serif" font-size="5.9" font-weight="normal" text-anchor="middle" fill="#000" stroke="#000" stroke-width="0.2" textLength="23.5" lengthAdjust="spacingAndGlyphs">D3S1358</text>
<rect x="114.5" y="282.5" width="152.60000000000002" height="8.8" rx="0.8" fill="#fff" stroke="#505050" stroke-width="1.05"/>
<text x="153.1" y="289.7" font-family="Liberation Sans, Arial, sans-serif" font-size="5.9" font-weight="normal" text-anchor="middle" fill="#000" stroke="#000" stroke-width="0.2" textLength="14.3" lengthAdjust="spacingAndGlyphs">TH01</text>
<text x="229.8" y="289.7" font-family="Liberation Sans, Arial, sans-serif" font-size="5.9" font-weight="normal" text-anchor="middle" fill="#000" stroke="#000" stroke-width="0.2" textLength="23.7" lengthAdjust="spacingAndGlyphs">D13S317</text>
<rect x="191.8" y="282.4" width="1.4" height="9.2" fill="#111"/>
<rect x="272.4" y="282.5" width="74.70000000000005" height="8.8" rx="0.8" fill="#fff" stroke="#505050" stroke-width="1.05"/>
<text x="309.8" y="289.7" font-family="Liberation Sans, Arial, sans-serif" font-size="5.9" font-weight="normal" text-anchor="middle" fill="#000" stroke="#000" stroke-width="0.2" textLength="23.3" lengthAdjust="spacingAndGlyphs">D16S539</text>
<rect x="357.8" y="282.5" width="109.19999999999999" height="8.8" rx="0.8" fill="#fff" stroke="#505050" stroke-width="1.05"/>
<text x="412.4" y="289.7" font-family="Liberation Sans, Arial, sans-serif" font-size="5.9" font-weight="normal" text-anchor="middle" fill="#000" stroke="#000" stroke-width="0.2" textLength="24.8" lengthAdjust="spacingAndGlyphs">D2S1338</text>
<text x="82" y="305.1" font-family="Liberation Sans, Arial, sans-serif" font-size="14.8" font-weight="bold" text-anchor="start" fill="#000"  textLength="52.6" lengthAdjust="spacingAndGlyphs">Mixture</text>
<text x="68" y="376.8" font-family="Liberation Sans, Arial, sans-serif" font-size="12.75" font-weight="bold" text-anchor="start" fill="#000"  textLength="85.1" lengthAdjust="spacingAndGlyphs">Single Source</text>
<rect x="2.9" y="310" width="92.6" height="30.6" fill="#dadada"/>
<rect x="114" y="310" width="153.6" height="30.6" fill="#dadada"/>
<rect x="271.4" y="310" width="76.2" height="30.6" fill="#dadada"/>
<rect x="357.8" y="310" width="109.9" height="30.6" fill="#dadada"/>
<rect x="30.7" y="310" width="0.9" height="30.6" fill="#c0c0c0"/>
<rect x="37.4" y="310" width="0.9" height="30.6" fill="#c0c0c0"/>
<rect x="44.4" y="310" width="0.9" height="30.6" fill="#c0c0c0"/>
<rect x="50.7" y="310" width="0.9" height="30.6" fill="#c0c0c0"/>
<rect x="57.8" y="310" width="0.9" height="30.6" fill="#c0c0c0"/>
<rect x="64.1" y="310" width="0.9" height="30.6" fill="#c0c0c0"/>
<rect x="66.8" y="310" width="0.9" height="30.6" fill="#c0c0c0"/>
<rect x="71.2" y="310" width="0.9" height="30.6" fill="#c0c0c0"/>
<rect x="77.9" y="310" width="0.9" height="30.6" fill="#c0c0c0"/>
<rect x="82.1" y="310" width="0.9" height="30.6" fill="#c0c0c0"/>
<rect x="86.5" y="310" width="0.9" height="30.6" fill="#c0c0c0"/>
<rect x="93.2" y="310" width="0.9" height="30.6" fill="#c0c0c0"/>
<rect x="116.4" y="310" width="0.9" height="30.6" fill="#c0c0c0"/>
<rect x="124.0" y="310" width="0.9" height="30.6" fill="#c0c0c0"/>
<rect x="130.9" y="310" width="0.9" height="30.6" fill="#c0c0c0"/>
<rect x="136.7" y="310" width="0.9" height="30.6" fill="#c0c0c0"/>
<rect x="143.9" y="310" width="0.9" height="30.6" fill="#c0c0c0"/>
<rect x="150.5" y="310" width="0.9" height="30.6" fill="#c0c0c0"/>
<rect x="156.1" y="310" width="0.9" height="30.6" fill="#c0c0c0"/>
<rect x="161.2" y="310" width="0.9" height="30.6" fill="#c0c0c0"/>
<rect x="164.5" y="310" width="0.9" height="30.6" fill="#c0c0c0"/>
<rect x="170.7" y="310" width="0.9" height="30.6" fill="#c0c0c0"/>
<rect x="176.8" y="310" width="0.9" height="30.6" fill="#c0c0c0"/>
<rect x="183.5" y="310" width="0.9" height="30.6" fill="#c0c0c0"/>
<rect x="189.1" y="310" width="0.9" height="30.6" fill="#c0c0c0"/>
<rect x="205.3" y="310" width="0.9" height="30.6" fill="#c0c0c0"/>
<rect x="211.6" y="310" width="0.9" height="30.6" fill="#c0c0c0"/>
<rect x="218.7" y="310" width="0.9" height="30.6" fill="#c0c0c0"/>
<rect x="225.4" y="310" width="0.9" height="30.6" fill="#c0c0c0"/>
<rect x="232.1" y="310" width="0.9" height="30.6" fill="#c0c0c0"/>
<rect x="238.8" y="310" width="0.9" height="30.6" fill="#c0c0c0"/>
<rect x="245.5" y="310" width="0.9" height="30.6" fill="#c0c0c0"/>
<rect x="252.2" y="310" width="0.9" height="30.6" fill="#c0c0c0"/>
<rect x="258.8" y="310" width="0.9" height="30.6" fill="#c0c0c0"/>
<rect x="279.1" y="310" width="0.9" height="30.6" fill="#c0c0c0"/>
<rect x="285.8" y="310" width="0.9" height="30.6" fill="#c0c0c0"/>
<rect x="292.5" y="310" width="0.9" height="30.6" fill="#c0c0c0"/>
<rect x="299.2" y="310" width="0.9" height="30.6" fill="#c0c0c0"/>
<rect x="305.9" y="310" width="0.9" height="30.6" fill="#c0c0c0"/>
<rect x="312.6" y="310" width="0.9" height="30.6" fill="#c0c0c0"/>
<rect x="319.3" y="310" width="0.9" height="30.6" fill="#c0c0c0"/>
<rect x="326.0" y="310" width="0.9" height="30.6" fill="#c0c0c0"/>
<rect x="332.7" y="310" width="0.9" height="30.6" fill="#c0c0c0"/>
<rect x="339.4" y="310" width="0.9" height="30.6" fill="#c0c0c0"/>
<rect x="364.4" y="310" width="0.9" height="30.6" fill="#c0c0c0"/>
<rect x="372.0" y="310" width="0.9" height="30.6" fill="#c0c0c0"/>
<rect x="379.7" y="310" width="0.9" height="30.6" fill="#c0c0c0"/>
<rect x="387.3" y="310" width="0.9" height="30.6" fill="#c0c0c0"/>
<rect x="394.9" y="310" width="0.9" height="30.6" fill="#c0c0c0"/>
<rect x="402.6" y="310" width="0.9" height="30.6" fill="#c0c0c0"/>
<rect x="407.4" y="310" width="0.9" height="30.6" fill="#c0c0c0"/>
<rect x="415.0" y="310" width="0.9" height="30.6" fill="#c0c0c0"/>
<rect x="422.7" y="310" width="0.9" height="30.6" fill="#c0c0c0"/>
<rect x="430.3" y="310" width="0.9" height="30.6" fill="#c0c0c0"/>
<rect x="436.6" y="310" width="0.9" height="30.6" fill="#c0c0c0"/>
<rect x="442.8" y="310" width="0.9" height="30.6" fill="#c0c0c0"/>
<rect x="449.1" y="310" width="0.9" height="30.6" fill="#c0c0c0"/>
<rect x="456.2" y="310" width="0.9" height="30.6" fill="#c0c0c0"/>
<rect x="2.9" y="339.9" width="495.7" height="1.8" fill="#55a15d"/>
<polygon points="53.10,340.6 50.10,340.6 50.40,332.68 51.60,330.70 52.80,332.68" fill="#74b077"/>
<polyline points="48.40,340.60 48.53,340.59 48.67,340.59 48.80,340.58 48.93,340.57 49.07,340.55 49.20,340.53 49.33,340.49 49.47,340.44 49.60,340.38 49.73,340.30 49.87,340.19 50.00,340.06 50.13,339.91 50.27,339.73 50.40,339.52 50.53,339.28 50.67,338.93 50.80,338.29 50.93,336.98 51.07,334.42 51.20,330.27 51.33,325.04 51.47,320.45 51.60,318.60 51.73,320.45 51.87,325.04 52.00,330.27 52.13,334.42 52.27,336.98 52.40,338.29 52.53,338.93 52.67,339.28 52.80,339.52 52.93,339.73 53.07,339.91 53.20,340.06 53.33,340.19 53.47,340.30 53.60,340.38 53.73,340.44 53.87,340.49 54.00,340.53 54.13,340.55 54.27,340.57 54.40,340.58 54.53,340.59 54.67,340.59 54.80,340.60" fill="none" stroke="#17691f" stroke-width="1.15" stroke-linejoin="round"/>
<polygon points="67.00,340.6 64.00,340.6 64.30,330.27 65.50,327.69 66.70,330.27" fill="#74b077"/>
<polyline points="62.30,340.60 62.43,340.59 62.57,340.59 62.70,340.58 62.83,340.57 62.97,340.55 63.10,340.53 63.23,340.49 63.37,340.44 63.50,340.38 63.63,340.30 63.77,340.19 63.90,340.06 64.03,339.91 64.17,339.73 64.30,339.52 64.43,339.26 64.57,338.87 64.70,338.10 64.83,336.41 64.97,333.04 65.10,327.51 65.23,320.53 65.37,314.38 65.50,311.90 65.63,314.38 65.77,320.53 65.90,327.51 66.03,333.04 66.17,336.41 66.30,338.10 66.43,338.87 66.57,339.26 66.70,339.52 66.83,339.73 66.97,339.91 67.10,340.06 67.23,340.19 67.37,340.30 67.50,340.38 67.63,340.44 67.77,340.49 67.90,340.53 68.03,340.55 68.17,340.57 68.30,340.58 68.43,340.59 68.57,340.59 68.70,340.60" fill="none" stroke="#17691f" stroke-width="1.15" stroke-linejoin="round"/>
<polygon points="73.90,340.6 70.90,340.6 71.20,332.54 72.40,330.52 73.60,332.54" fill="#74b077"/>
<polyline points="69.20,340.60 69.33,340.59 69.47,340.59 69.60,340.58 69.73,340.57 69.87,340.55 70.00,340.53 70.13,340.49 70.27,340.44 70.40,340.38 70.53,340.30 70.67,340.19 70.80,340.06 70.93,339.91 71.07,339.73 71.20,339.52 71.33,339.28 71.47,338.92 71.60,338.28 71.73,336.95 71.87,334.34 72.00,330.10 72.13,324.77 72.27,320.09 72.40,318.20 72.53,320.09 72.67,324.77 72.80,330.10 72.93,334.34 73.07,336.95 73.20,338.28 73.33,338.92 73.47,339.28 73.60,339.52 73.73,339.73 73.87,339.91 74.00,340.06 74.13,340.19 74.27,340.30 74.40,340.38 74.53,340.44 74.67,340.49 74.80,340.53 74.93,340.55 75.07,340.57 75.20,340.58 75.33,340.59 75.47,340.59 75.60,340.60" fill="none" stroke="#17691f" stroke-width="1.15" stroke-linejoin="round"/>
<polyline points="41.80,340.60 41.93,340.60 42.07,340.60 42.20,340.60 42.33,340.60 42.47,340.59 42.60,340.59 42.73,340.58 42.87,340.56 43.00,340.53 43.13,340.50 43.27,340.44 43.40,340.36 43.53,340.26 43.67,340.13 43.80,339.96 43.93,339.76 44.07,339.54 44.20,339.30 44.33,339.05 44.47,338.81 44.60,338.60 44.73,338.44 44.87,338.34 45.00,338.30 45.13,338.34 45.27,338.44 45.40,338.60 45.53,338.81 45.67,339.05 45.80,339.30 45.93,339.54 46.07,339.76 46.20,339.96 46.33,340.13 46.47,340.26 46.60,340.36 46.73,340.44 46.87,340.50 47.00,340.53 47.13,340.56 47.27,340.58 47.40,340.59 47.53,340.59 47.67,340.60 47.80,340.60 47.93,340.60 48.07,340.60 48.20,340.60" fill="none" stroke="#17691f" stroke-width="1.1" stroke-linejoin="round"/>
<polyline points="55.10,340.60 55.23,340.60 55.37,340.60 55.50,340.60 55.63,340.59 55.77,340.59 55.90,340.58 56.03,340.57 56.17,340.55 56.30,340.52 56.43,340.47 56.57,340.41 56.70,340.31 56.83,340.19 56.97,340.02 57.10,339.82 57.23,339.58 57.37,339.31 57.50,339.01 57.63,338.71 57.77,338.43 57.90,338.17 58.03,337.97 58.17,337.84 58.30,337.80 58.43,337.84 58.57,337.97 58.70,338.17 58.83,338.43 58.97,338.71 59.10,339.01 59.23,339.31 59.37,339.58 59.50,339.82 59.63,340.02 59.77,340.19 59.90,340.31 60.03,340.41 60.17,340.47 60.30,340.52 60.43,340.55 60.57,340.57 60.70,340.58 60.83,340.59 60.97,340.59 61.10,340.60 61.23,340.60 61.37,340.60 61.50,340.60" fill="none" stroke="#17691f" stroke-width="1.1" stroke-linejoin="round"/>
<polygon points="153.10,340.6 150.10,340.6 150.40,333.69 151.60,331.96 152.80,333.69" fill="#74b077"/>
<polyline points="148.40,340.60 148.53,340.59 148.67,340.59 148.80,340.58 148.93,340.57 149.07,340.55 149.20,340.53 149.33,340.49 149.47,340.44 149.60,340.38 149.73,340.30 149.87,340.19 150.00,340.06 150.13,339.91 150.27,339.73 150.40,339.53 150.53,339.28 150.67,338.95 150.80,338.37 150.93,337.22 151.07,335.00 151.20,331.42 151.33,326.93 151.47,322.99 151.60,321.40 151.73,322.99 151.87,326.93 152.00,331.42 152.13,335.00 152.27,337.22 152.40,338.37 152.53,338.95 152.67,339.28 152.80,339.53 152.93,339.73 153.07,339.91 153.20,340.06 153.33,340.19 153.47,340.30 153.60,340.38 153.73,340.44 153.87,340.49 154.00,340.53 154.13,340.55 154.27,340.57 154.40,340.58 154.53,340.59 154.67,340.59 154.80,340.60" fill="none" stroke="#17691f" stroke-width="1.15" stroke-linejoin="round"/>
<polyline points="154.80,340.60 154.93,340.59 155.07,340.59 155.20,340.58 155.33,340.57 155.47,340.55 155.60,340.53 155.73,340.49 155.87,340.44 156.00,340.38 156.13,340.30 156.27,340.19 156.40,340.06 156.53,339.91 156.67,339.73 156.80,339.53 156.93,339.29 157.07,339.00 157.20,338.55 157.33,337.73 157.47,336.26 157.60,333.93 157.73,331.04 157.87,328.52 158.00,327.50 158.13,328.52 158.27,331.04 158.40,333.93 158.53,336.26 158.67,337.73 158.80,338.55 158.93,339.00 159.07,339.29 159.20,339.53 159.33,339.73 159.47,339.91 159.60,340.06 159.73,340.19 159.87,340.30 160.00,340.38 160.13,340.44 160.27,340.49 160.40,340.53 160.53,340.55 160.67,340.57 160.80,340.58 160.93,340.59 161.07,340.59 161.20,340.60" fill="none" stroke="#17691f" stroke-width="1.15" stroke-linejoin="round"/>
<polygon points="164.80,340.6 161.80,340.6 162.10,329.58 163.30,326.83 164.50,329.58" fill="#74b077"/>
<polyline points="160.10,340.60 160.23,340.59 160.37,340.59 160.50,340.58 160.63,340.57 160.77,340.55 160.90,340.53 161.03,340.49 161.17,340.44 161.30,340.38 161.43,340.30 161.57,340.19 161.70,340.06 161.83,339.91 161.97,339.73 162.10,339.52 162.23,339.26 162.37,338.86 162.50,338.05 162.63,336.25 162.77,332.65 162.90,326.73 163.03,319.25 163.17,312.66 163.30,310.00 163.43,312.66 163.57,319.25 163.70,326.73 163.83,332.65 163.97,336.25 164.10,338.05 164.23,338.86 164.37,339.26 164.50,339.52 164.63,339.73 164.77,339.91 164.90,340.06 165.03,340.19 165.17,340.30 165.30,340.38 165.43,340.44 165.57,340.49 165.70,340.53 165.83,340.55 165.97,340.57 166.10,340.58 166.23,340.59 166.37,340.59 166.50,340.60" fill="none" stroke="#17691f" stroke-width="1.15" stroke-linejoin="round"/>
<polygon points="213.90,340.6 210.90,340.6 211.20,330.27 212.40,327.69 213.60,330.27" fill="#74b077"/>
<polyline points="209.20,340.60 209.33,340.59 209.47,340.59 209.60,340.58 209.73,340.57 209.87,340.55 210.00,340.53 210.13,340.49 210.27,340.44 210.40,340.38 210.53,340.30 210.67,340.19 210.80,340.06 210.93,339.91 211.07,339.73 211.20,339.52 211.33,339.26 211.47,338.87 211.60,338.10 211.73,336.41 211.87,333.04 212.00,327.51 212.13,320.53 212.27,314.38 212.40,311.90 212.53,314.38 212.67,320.53 212.80,327.51 212.93,333.04 213.07,336.41 213.20,338.10 213.33,338.87 213.47,339.26 213.60,339.52 213.73,339.73 213.87,339.91 214.00,340.06 214.13,340.19 214.27,340.30 214.40,340.38 214.53,340.44 214.67,340.49 214.80,340.53 214.93,340.55 215.07,340.57 215.20,340.58 215.33,340.59 215.47,340.59 215.60,340.60" fill="none" stroke="#17691f" stroke-width="1.15" stroke-linejoin="round"/>
<polyline points="222.80,340.60 222.93,340.59 223.07,340.59 223.20,340.58 223.33,340.57 223.47,340.55 223.60,340.53 223.73,340.49 223.87,340.44 224.00,340.38 224.13,340.30 224.27,340.19 224.40,340.06 224.53,339.91 224.67,339.73 224.80,339.53 224.93,339.29 225.07,339.00 225.20,338.54 225.33,337.71 225.47,336.19 225.60,333.80 225.73,330.84 225.87,328.24 226.00,327.20 226.13,328.24 226.27,330.84 226.40,333.80 226.53,336.19 226.67,337.71 226.80,338.54 226.93,339.00 227.07,339.29 227.20,339.53 227.33,339.73 227.47,339.91 227.60,340.06 227.73,340.19 227.87,340.30 228.00,340.38 228.13,340.44 228.27,340.49 228.40,340.53 228.53,340.55 228.67,340.57 228.80,340.58 228.93,340.59 229.07,340.59 229.20,340.60" fill="none" stroke="#17691f" stroke-width="1.15" stroke-linejoin="round"/>
<polyline points="236.20,340.60 236.33,340.59 236.47,340.59 236.60,340.58 236.73,340.57 236.87,340.55 237.00,340.53 237.13,340.49 237.27,340.44 237.40,340.38 237.53,340.30 237.67,340.19 237.80,340.06 237.93,339.91 238.07,339.73 238.20,339.53 238.33,339.30 238.47,339.01 238.60,338.61 238.73,337.91 238.87,336.69 239.00,334.79 239.13,332.45 239.27,330.42 239.40,329.60 239.53,330.42 239.67,332.45 239.80,334.79 239.93,336.69 240.07,337.91 240.20,338.61 240.33,339.01 240.47,339.30 240.60,339.53 240.73,339.73 240.87,339.91 241.00,340.06 241.13,340.19 241.27,340.30 241.40,340.38 241.53,340.44 241.67,340.49 241.80,340.53 241.93,340.55 242.07,340.57 242.20,340.58 242.33,340.59 242.47,340.59 242.60,340.60" fill="none" stroke="#17691f" stroke-width="1.15" stroke-linejoin="round"/>
<polyline points="296.90,340.60 297.03,340.59 297.17,340.59 297.30,340.58 297.43,340.57 297.57,340.55 297.70,340.53 297.83,340.49 297.97,340.44 298.10,340.38 298.23,340.30 298.37,340.19 298.50,340.06 298.63,339.91 298.77,339.73 298.90,339.53 299.03,339.29 299.17,338.97 299.30,338.45 299.43,337.43 299.57,335.52 299.70,332.45 299.83,328.61 299.97,325.25 300.10,323.90 300.23,325.25 300.37,328.61 300.50,332.45 300.63,335.52 300.77,337.43 300.90,338.45 301.03,338.97 301.17,339.29 301.30,339.53 301.43,339.73 301.57,339.91 301.70,340.06 301.83,340.19 301.97,340.30 302.10,340.38 302.23,340.44 302.37,340.49 302.50,340.53 302.63,340.55 302.77,340.57 302.90,340.58 303.03,340.59 303.17,340.59 303.30,340.60" fill="none" stroke="#17691f" stroke-width="1.15" stroke-linejoin="round"/>
<polyline points="310.50,340.60 310.63,340.59 310.77,340.59 310.90,340.58 311.03,340.57 311.17,340.55 311.30,340.53 311.43,340.49 311.57,340.44 311.70,340.38 311.83,340.30 311.97,340.19 312.10,340.06 312.23,339.91 312.37,339.73 312.50,339.53 312.63,339.30 312.77,339.02 312.90,338.64 313.03,338.00 313.17,336.89 313.30,335.20 313.43,333.13 313.57,331.32 313.70,330.60 313.83,331.32 313.97,333.13 314.10,335.20 314.23,336.89 314.37,338.00 314.50,338.64 314.63,339.02 314.77,339.30 314.90,339.53 315.03,339.73 315.17,339.91 315.30,340.06 315.43,340.19 315.57,340.30 315.70,340.38 315.83,340.44 315.97,340.49 316.10,340.53 316.23,340.55 316.37,340.57 316.50,340.58 316.63,340.59 316.77,340.59 316.90,340.60" fill="none" stroke="#17691f" stroke-width="1.15" stroke-linejoin="round"/>
<polyline points="317.20,340.60 317.33,340.59 317.47,340.59 317.60,340.58 317.73,340.57 317.87,340.55 318.00,340.53 318.13,340.49 318.27,340.44 318.40,340.38 318.53,340.30 318.67,340.19 318.80,340.06 318.93,339.91 319.07,339.73 319.20,339.53 319.33,339.30 319.47,339.01 319.60,338.58 319.73,337.84 319.87,336.50 320.00,334.42 320.13,331.85 320.27,329.60 320.40,328.70 320.53,329.60 320.67,331.85 320.80,334.42 320.93,336.50 321.07,337.84 321.20,338.58 321.33,339.01 321.47,339.30 321.60,339.53 321.73,339.73 321.87,339.91 322.00,340.06 322.13,340.19 322.27,340.30 322.40,340.38 322.53,340.44 322.67,340.49 322.80,340.53 322.93,340.55 323.07,340.57 323.20,340.58 323.33,340.59 323.47,340.59 323.60,340.60" fill="none" stroke="#17691f" stroke-width="1.15" stroke-linejoin="round"/>
<polyline points="376.40,340.60 376.53,340.59 376.67,340.59 376.80,340.58 376.93,340.57 377.07,340.55 377.20,340.53 377.33,340.49 377.47,340.44 377.60,340.38 377.73,340.30 377.87,340.19 378.00,340.06 378.13,339.91 378.27,339.73 378.40,339.53 378.53,339.29 378.67,338.99 378.80,338.52 378.93,337.64 379.07,336.03 379.20,333.48 379.33,330.30 379.47,327.52 379.60,326.40 379.73,327.52 379.87,330.30 380.00,333.48 380.13,336.03 380.27,337.64 380.40,338.52 380.53,338.99 380.67,339.29 380.80,339.53 380.93,339.73 381.07,339.91 381.20,340.06 381.33,340.19 381.47,340.30 381.60,340.38 381.73,340.44 381.87,340.49 382.00,340.53 382.13,340.55 382.27,340.57 382.40,340.58 382.53,340.59 382.67,340.59 382.80,340.60" fill="none" stroke="#17691f" stroke-width="1.15" stroke-linejoin="round"/>
<polyline points="390.30,340.60 390.43,340.59 390.57,340.59 390.70,340.58 390.83,340.58 390.97,340.56 391.10,340.54 391.23,340.52 391.37,340.48 391.50,340.43 391.63,340.37 391.77,340.29 391.90,340.19 392.03,340.08 392.17,339.94 392.30,339.78 392.43,339.61 392.57,339.41 392.70,339.13 392.83,338.70 392.97,337.99 393.10,336.91 393.23,335.59 393.37,334.46 393.50,334.00 393.63,334.46 393.77,335.59 393.90,336.91 394.03,337.99 394.17,338.70 394.30,339.13 394.43,339.41 394.57,339.61 394.70,339.78 394.83,339.94 394.97,340.08 395.10,340.19 395.23,340.29 395.37,340.37 395.50,340.43 395.63,340.48 395.77,340.52 395.90,340.54 396.03,340.56 396.17,340.58 396.30,340.58 396.43,340.59 396.57,340.59 396.70,340.60" fill="none" stroke="#17691f" stroke-width="1.15" stroke-linejoin="round"/>
<polyline points="417.50,340.60 417.63,340.59 417.77,340.59 417.90,340.59 418.03,340.58 418.17,340.57 418.30,340.55 418.43,340.53 418.57,340.50 418.70,340.45 418.83,340.40 418.97,340.33 419.10,340.24 419.23,340.14 419.37,340.02 419.50,339.88 419.63,339.73 419.77,339.55 419.90,339.31 420.03,338.93 420.17,338.30 420.30,337.35 420.43,336.20 420.57,335.20 420.70,334.80 420.83,335.20 420.97,336.20 421.10,337.35 421.23,338.30 421.37,338.93 421.50,339.31 421.63,339.55 421.77,339.73 421.90,339.88 422.03,340.02 422.17,340.14 422.30,340.24 422.43,340.33 422.57,340.40 422.70,340.45 422.83,340.50 422.97,340.53 423.10,340.55 423.23,340.57 423.37,340.58 423.50,340.59 423.63,340.59 423.77,340.59 423.90,340.60" fill="none" stroke="#17691f" stroke-width="1.15" stroke-linejoin="round"/>
<rect x="51.6" y="341.4" width="1" height="2.2" fill="#555"/>
<rect x="47.9" y="343.3" width="8.5" height="8.3" rx="0.8" fill="#fff" stroke="#3a3a3a" stroke-width="1"/>
<text x="52.1" y="350.1" font-family="Liberation Sans, Arial, sans-serif" font-size="6.3" font-weight="normal" text-anchor="middle" fill="#000" stroke="#000" stroke-width="0.15" letter-spacing="-0.3">14</text>
<rect x="65.0" y="341.4" width="1" height="2.2" fill="#555"/>
<rect x="61.3" y="343.3" width="8.4" height="8.3" rx="0.8" fill="#fff" stroke="#3a3a3a" stroke-width="1"/>
<text x="65.5" y="350.1" font-family="Liberation Sans, Arial, sans-serif" font-size="6.3" font-weight="normal" text-anchor="middle" fill="#000" stroke="#000" stroke-width="0.15" letter-spacing="-0.3">16</text>
<rect x="71.4" y="341.4" width="1" height="12.1" fill="#555"/>
<rect x="67.6" y="353.2" width="8.6" height="8.3" rx="0.8" fill="#fff" stroke="#3a3a3a" stroke-width="1"/>
<text x="71.9" y="360.0" font-family="Liberation Sans, Arial, sans-serif" font-size="6.3" font-weight="normal" text-anchor="middle" fill="#000" stroke="#000" stroke-width="0.15" letter-spacing="-0.3">17</text>
<rect x="151.0" y="341.4" width="1" height="2.0" fill="#555"/>
<rect x="148.9" y="343.1" width="5.2" height="8.3" rx="0.8" fill="#fff" stroke="#3a3a3a" stroke-width="1"/>
<text x="151.5" y="349.9" font-family="Liberation Sans, Arial, sans-serif" font-size="6.3" font-weight="normal" text-anchor="middle" fill="#000" stroke="#000" stroke-width="0.15" letter-spacing="-0.3">8</text>
<rect x="162.8" y="341.4" width="1" height="2.0" fill="#555"/>
<rect x="158.1" y="343.1" width="10.4" height="8.3" rx="0.8" fill="#fff" stroke="#3a3a3a" stroke-width="1"/>
<text x="163.3" y="349.9" font-family="Liberation Sans, Arial, sans-serif" font-size="6.3" font-weight="normal" text-anchor="middle" fill="#000" stroke="#000" stroke-width="0.15" letter-spacing="-0.3">9.3</text>
<rect x="157.6" y="341.4" width="1" height="12.5" fill="#555"/>
<rect x="155.3" y="353.6" width="5.5" height="8.3" rx="0.8" fill="#fff" stroke="#3a3a3a" stroke-width="1"/>
<text x="158.1" y="360.4" font-family="Liberation Sans, Arial, sans-serif" font-size="6.3" font-weight="normal" text-anchor="middle" fill="#000" stroke="#000" stroke-width="0.15" letter-spacing="-0.3">9</text>
<rect x="211.6" y="341.4" width="1" height="2.0" fill="#555"/>
<rect x="209.6" y="343.1" width="5.1" height="8.3" rx="0.8" fill="#fff" stroke="#3a3a3a" stroke-width="1"/>
<text x="212.1" y="349.9" font-family="Liberation Sans, Arial, sans-serif" font-size="6.3" font-weight="normal" text-anchor="middle" fill="#000" stroke="#000" stroke-width="0.15" letter-spacing="-0.3">8</text>
<rect x="225.6" y="341.4" width="1" height="2.2" fill="#555"/>
<rect x="221.7" y="343.3" width="8.7" height="8.3" rx="0.8" fill="#fff" stroke="#3a3a3a" stroke-width="1"/>
<text x="226.1" y="350.1" font-family="Liberation Sans, Arial, sans-serif" font-size="6.3" font-weight="normal" text-anchor="middle" fill="#000" stroke="#000" stroke-width="0.15" letter-spacing="-0.3">10</text>
<rect x="239.2" y="341.4" width="1" height="2.2" fill="#555"/>
<rect x="235.5" y="343.3" width="8.4" height="8.3" rx="0.8" fill="#fff" stroke="#3a3a3a" stroke-width="1"/>
<text x="239.7" y="350.1" font-family="Liberation Sans, Arial, sans-serif" font-size="6.3" font-weight="normal" text-anchor="middle" fill="#000" stroke="#000" stroke-width="0.15" letter-spacing="-0.3">12</text>
<rect x="298.9" y="341.4" width="1" height="2.2" fill="#555"/>
<rect x="296.4" y="343.3" width="5.9" height="8.3" rx="0.8" fill="#fff" stroke="#3a3a3a" stroke-width="1"/>
<text x="299.4" y="350.1" font-family="Liberation Sans, Arial, sans-serif" font-size="6.3" font-weight="normal" text-anchor="middle" fill="#000" stroke="#000" stroke-width="0.15" letter-spacing="-0.3">9</text>
<rect x="319.9" y="341.4" width="1" height="2.2" fill="#555"/>
<rect x="316.4" y="343.3" width="7.9" height="8.3" rx="0.8" fill="#fff" stroke="#3a3a3a" stroke-width="1"/>
<text x="320.4" y="350.1" font-family="Liberation Sans, Arial, sans-serif" font-size="6.3" font-weight="normal" text-anchor="middle" fill="#000" stroke="#000" stroke-width="0.15" letter-spacing="-0.3">12</text>
<rect x="312.6" y="341.4" width="1" height="21.6" fill="#555"/>
<rect x="308.8" y="362.7" width="8.7" height="8.3" rx="0.8" fill="#fff" stroke="#3a3a3a" stroke-width="1"/>
<text x="313.1" y="369.5" font-family="Liberation Sans, Arial, sans-serif" font-size="6.3" font-weight="normal" text-anchor="middle" fill="#000" stroke="#000" stroke-width="0.15" letter-spacing="-0.3">11</text>
<rect x="378.9" y="341.4" width="1" height="2.2" fill="#555"/>
<rect x="375.2" y="343.3" width="8.4" height="8.3" rx="0.8" fill="#fff" stroke="#3a3a3a" stroke-width="1"/>
<text x="379.4" y="350.1" font-family="Liberation Sans, Arial, sans-serif" font-size="6.3" font-weight="normal" text-anchor="middle" fill="#000" stroke="#000" stroke-width="0.15" letter-spacing="-0.3">17</text>
<rect x="392.5" y="341.4" width="1" height="2.2" fill="#555"/>
<rect x="388.7" y="343.3" width="8.6" height="8.3" rx="0.8" fill="#fff" stroke="#3a3a3a" stroke-width="1"/>
<text x="393.0" y="350.1" font-family="Liberation Sans, Arial, sans-serif" font-size="6.3" font-weight="normal" text-anchor="middle" fill="#000" stroke="#000" stroke-width="0.15" letter-spacing="-0.3">19</text>
<rect x="420.1" y="341.4" width="1" height="2.2" fill="#555"/>
<rect x="416.5" y="343.3" width="8.3" height="8.3" rx="0.8" fill="#fff" stroke="#3a3a3a" stroke-width="1"/>
<text x="420.6" y="350.1" font-family="Liberation Sans, Arial, sans-serif" font-size="6.3" font-weight="normal" text-anchor="middle" fill="#000" stroke="#000" stroke-width="0.15" letter-spacing="-0.3">23</text>
<rect x="71.1" y="340.6" width="1" height="12.099999999999966" fill="#8a8a8a"/>
<rect x="157.5" y="340.6" width="1" height="12.5" fill="#8a8a8a"/>
<rect x="312.9" y="340.6" width="1" height="21.599999999999966" fill="#8a8a8a"/>
<rect x="498.1" y="309.7" width="1.1" height="31.5" fill="#222"/>
<rect x="498.6" y="315.1" width="3.6" height="1" fill="#222"/>
<text x="502.8" y="317.9" font-family="Liberation Sans, Arial, sans-serif" font-size="6.3" font-weight="normal" text-anchor="start" fill="#000" stroke="#000" stroke-width="0.25" textLength="12.8" lengthAdjust="spacingAndGlyphs">2000</text>
<rect x="498.6" y="326.9" width="3.6" height="1" fill="#222"/>
<text x="502.8" y="329.7" font-family="Liberation Sans, Arial, sans-serif" font-size="6.3" font-weight="normal" text-anchor="start" fill="#000" stroke="#000" stroke-width="0.25" textLength="12.8" lengthAdjust="spacingAndGlyphs">1000</text>
<rect x="498.6" y="340.2" width="3.6" height="1" fill="#222"/>
<rect x="498.6" y="321.2" width="2" height="1" fill="#222"/>
<rect x="498.6" y="333.8" width="2" height="1" fill="#222"/>
<rect x="2.9" y="385.3" width="92.6" height="33.5" fill="#dadada"/>
<rect x="114" y="385.3" width="153.6" height="33.5" fill="#dadada"/>
<rect x="271.4" y="385.3" width="76.2" height="33.5" fill="#dadada"/>
<rect x="357.8" y="385.3" width="109.9" height="33.5" fill="#dadada"/>
<rect x="30.7" y="385.3" width="0.9" height="33.5" fill="#c0c0c0"/>
<rect x="37.4" y="385.3" width="0.9" height="33.5" fill="#c0c0c0"/>
<rect x="44.4" y="385.3" width="0.9" height="33.5" fill="#c0c0c0"/>
<rect x="50.7" y="385.3" width="0.9" height="33.5" fill="#c0c0c0"/>
<rect x="57.8" y="385.3" width="0.9" height="33.5" fill="#c0c0c0"/>
<rect x="64.1" y="385.3" width="0.9" height="33.5" fill="#c0c0c0"/>
<rect x="66.8" y="385.3" width="0.9" height="33.5" fill="#c0c0c0"/>
<rect x="71.2" y="385.3" width="0.9" height="33.5" fill="#c0c0c0"/>
<rect x="77.9" y="385.3" width="0.9" height="33.5" fill="#c0c0c0"/>
<rect x="82.1" y="385.3" width="0.9" height="33.5" fill="#c0c0c0"/>
<rect x="86.5" y="385.3" width="0.9" height="33.5" fill="#c0c0c0"/>
<rect x="93.2" y="385.3" width="0.9" height="33.5" fill="#c0c0c0"/>
<rect x="116.4" y="385.3" width="0.9" height="33.5" fill="#c0c0c0"/>
<rect x="124.0" y="385.3" width="0.9" height="33.5" fill="#c0c0c0"/>
<rect x="130.9" y="385.3" width="0.9" height="33.5" fill="#c0c0c0"/>
<rect x="136.7" y="385.3" width="0.9" height="33.5" fill="#c0c0c0"/>
<rect x="143.9" y="385.3" width="0.9" height="33.5" fill="#c0c0c0"/>
<rect x="150.5" y="385.3" width="0.9" height="33.5" fill="#c0c0c0"/>
<rect x="156.1" y="385.3" width="0.9" height="33.5" fill="#c0c0c0"/>
<rect x="161.2" y="385.3" width="0.9" height="33.5" fill="#c0c0c0"/>
<rect x="164.5" y="385.3" width="0.9" height="33.5" fill="#c0c0c0"/>
<rect x="170.7" y="385.3" width="0.9" height="33.5" fill="#c0c0c0"/>
<rect x="176.8" y="385.3" width="0.9" height="33.5" fill="#c0c0c0"/>
<rect x="183.5" y="385.3" width="0.9" height="33.5" fill="#c0c0c0"/>
<rect x="189.1" y="385.3" width="0.9" height="33.5" fill="#c0c0c0"/>
<rect x="205.3" y="385.3" width="0.9" height="33.5" fill="#c0c0c0"/>
<rect x="211.6" y="385.3" width="0.9" height="33.5" fill="#c0c0c0"/>
<rect x="218.7" y="385.3" width="0.9" height="33.5" fill="#c0c0c0"/>
<rect x="225.4" y="385.3" width="0.9" height="33.5" fill="#c0c0c0"/>
<rect x="232.1" y="385.3" width="0.9" height="33.5" fill="#c0c0c0"/>
<rect x="238.8" y="385.3" width="0.9" height="33.5" fill="#c0c0c0"/>
<rect x="245.5" y="385.3" width="0.9" height="33.5" fill="#c0c0c0"/>
<rect x="252.2" y="385.3" width="0.9" height="33.5" fill="#c0c0c0"/>
<rect x="258.8" y="385.3" width="0.9" height="33.5" fill="#c0c0c0"/>
<rect x="279.1" y="385.3" width="0.9" height="33.5" fill="#c0c0c0"/>
<rect x="285.8" y="385.3" width="0.9" height="33.5" fill="#c0c0c0"/>
<rect x="292.5" y="385.3" width="0.9" height="33.5" fill="#c0c0c0"/>
<rect x="299.2" y="385.3" width="0.9" height="33.5" fill="#c0c0c0"/>
<rect x="305.9" y="385.3" width="0.9" height="33.5" fill="#c0c0c0"/>
<rect x="312.6" y="385.3" width="0.9" height="33.5" fill="#c0c0c0"/>
<rect x="319.3" y="385.3" width="0.9" height="33.5" fill="#c0c0c0"/>
<rect x="326.0" y="385.3" width="0.9" height="33.5" fill="#c0c0c0"/>
<rect x="332.7" y="385.3" width="0.9" height="33.5" fill="#c0c0c0"/>
<rect x="339.4" y="385.3" width="0.9" height="33.5" fill="#c0c0c0"/>
<rect x="364.4" y="385.3" width="0.9" height="33.5" fill="#c0c0c0"/>
<rect x="372.0" y="385.3" width="0.9" height="33.5" fill="#c0c0c0"/>
<rect x="379.7" y="385.3" width="0.9" height="33.5" fill="#c0c0c0"/>
<rect x="387.3" y="385.3" width="0.9" height="33.5" fill="#c0c0c0"/>
<rect x="394.9" y="385.3" width="0.9" height="33.5" fill="#c0c0c0"/>
<rect x="402.6" y="385.3" width="0.9" height="33.5" fill="#c0c0c0"/>
<rect x="407.4" y="385.3" width="0.9" height="33.5" fill="#c0c0c0"/>
<rect x="415.0" y="385.3" width="0.9" height="33.5" fill="#c0c0c0"/>
<rect x="422.7" y="385.3" width="0.9" height="33.5" fill="#c0c0c0"/>
<rect x="430.3" y="385.3" width="0.9" height="33.5" fill="#c0c0c0"/>
<rect x="436.6" y="385.3" width="0.9" height="33.5" fill="#c0c0c0"/>
<rect x="442.8" y="385.3" width="0.9" height="33.5" fill="#c0c0c0"/>
<rect x="449.1" y="385.3" width="0.9" height="33.5" fill="#c0c0c0"/>
<rect x="456.2" y="385.3" width="0.9" height="33.5" fill="#c0c0c0"/>
<rect x="2.9" y="418.1" width="495.7" height="1.8" fill="#55a15d"/>
<polygon points="67.10,418.8 64.10,418.8 64.40,406.92 65.60,403.95 66.80,406.92" fill="#74b077"/>
<polyline points="62.40,418.80 62.53,418.79 62.67,418.79 62.80,418.78 62.93,418.77 63.07,418.75 63.20,418.73 63.33,418.69 63.47,418.64 63.60,418.58 63.73,418.50 63.87,418.39 64.00,418.26 64.13,418.11 64.27,417.93 64.40,417.72 64.53,417.46 64.67,417.04 64.80,416.18 64.93,414.25 65.07,410.36 65.20,403.95 65.33,395.83 65.47,388.69 65.60,385.80 65.73,388.69 65.87,395.83 66.00,403.95 66.13,410.36 66.27,414.25 66.40,416.18 66.53,417.04 66.67,417.46 66.80,417.72 66.93,417.93 67.07,418.11 67.20,418.26 67.33,418.39 67.47,418.50 67.60,418.58 67.73,418.64 67.87,418.69 68.00,418.73 68.13,418.75 68.27,418.77 68.40,418.78 68.53,418.79 68.67,418.79 68.80,418.80" fill="none" stroke="#17691f" stroke-width="1.15" stroke-linejoin="round"/>
<polyline points="55.10,418.80 55.23,418.80 55.37,418.80 55.50,418.80 55.63,418.80 55.77,418.79 55.90,418.79 56.03,418.77 56.17,418.76 56.30,418.73 56.43,418.69 56.57,418.63 56.70,418.54 56.83,418.43 56.97,418.29 57.10,418.10 57.23,417.89 57.37,417.65 57.50,417.38 57.63,417.12 57.77,416.86 57.90,416.63 58.03,416.45 58.17,416.34 58.30,416.30 58.43,416.34 58.57,416.45 58.70,416.63 58.83,416.86 58.97,417.12 59.10,417.38 59.23,417.65 59.37,417.89 59.50,418.10 59.63,418.29 59.77,418.43 59.90,418.54 60.03,418.63 60.17,418.69 60.30,418.73 60.43,418.76 60.57,418.77 60.70,418.79 60.83,418.79 60.97,418.80 61.10,418.80 61.23,418.80 61.37,418.80 61.50,418.80" fill="none" stroke="#17691f" stroke-width="1.1" stroke-linejoin="round"/>
<polyline points="68.50,418.80 68.63,418.80 68.77,418.80 68.90,418.80 69.03,418.80 69.17,418.79 69.30,418.79 69.43,418.78 69.57,418.76 69.70,418.74 69.83,418.70 69.97,418.65 70.10,418.57 70.23,418.47 70.37,418.35 70.50,418.19 70.63,418.00 70.77,417.79 70.90,417.55 71.03,417.32 71.17,417.09 71.30,416.89 71.43,416.73 71.57,416.63 71.70,416.60 71.83,416.63 71.97,416.73 72.10,416.89 72.23,417.09 72.37,417.32 72.50,417.55 72.63,417.79 72.77,418.00 72.90,418.19 73.03,418.35 73.17,418.47 73.30,418.57 73.43,418.65 73.57,418.70 73.70,418.74 73.83,418.76 73.97,418.78 74.10,418.79 74.23,418.79 74.37,418.80 74.50,418.80 74.63,418.80 74.77,418.80 74.90,418.80" fill="none" stroke="#17691f" stroke-width="1.1" stroke-linejoin="round"/>
<polyline points="155.10,418.80 155.23,418.79 155.37,418.79 155.50,418.78 155.63,418.77 155.77,418.75 155.90,418.73 156.03,418.69 156.17,418.64 156.30,418.58 156.43,418.50 156.57,418.39 156.70,418.26 156.83,418.11 156.97,417.93 157.10,417.73 157.23,417.49 157.37,417.20 157.50,416.75 157.63,415.93 157.77,414.44 157.90,412.09 158.03,409.17 158.17,406.63 158.30,405.60 158.43,406.63 158.57,409.17 158.70,412.09 158.83,414.44 158.97,415.93 159.10,416.75 159.23,417.20 159.37,417.49 159.50,417.73 159.63,417.93 159.77,418.11 159.90,418.26 160.03,418.39 160.17,418.50 160.30,418.58 160.43,418.64 160.57,418.69 160.70,418.73 160.83,418.75 160.97,418.77 161.10,418.78 161.23,418.79 161.37,418.79 161.50,418.80" fill="none" stroke="#17691f" stroke-width="1.15" stroke-linejoin="round"/>
<polyline points="160.30,418.80 160.43,418.79 160.57,418.79 160.70,418.78 160.83,418.77 160.97,418.75 161.10,418.73 161.23,418.69 161.37,418.64 161.50,418.58 161.63,418.50 161.77,418.39 161.90,418.26 162.03,418.11 162.17,417.93 162.30,417.73 162.43,417.49 162.57,417.20 162.70,416.75 162.83,415.93 162.97,414.44 163.10,412.09 163.23,409.17 163.37,406.63 163.50,405.60 163.63,406.63 163.77,409.17 163.90,412.09 164.03,414.44 164.17,415.93 164.30,416.75 164.43,417.20 164.57,417.49 164.70,417.73 164.83,417.93 164.97,418.11 165.10,418.26 165.23,418.39 165.37,418.50 165.50,418.58 165.63,418.64 165.77,418.69 165.90,418.73 166.03,418.75 166.17,418.77 166.30,418.78 166.43,418.79 166.57,418.79 166.70,418.80" fill="none" stroke="#17691f" stroke-width="1.15" stroke-linejoin="round"/>
<polyline points="209.40,418.80 209.53,418.79 209.67,418.79 209.80,418.78 209.93,418.77 210.07,418.75 210.20,418.73 210.33,418.69 210.47,418.64 210.60,418.58 210.73,418.50 210.87,418.39 211.00,418.26 211.13,418.11 211.27,417.93 211.40,417.73 211.53,417.50 211.67,417.22 211.80,416.81 211.93,416.12 212.07,414.91 212.20,413.03 212.33,410.72 212.47,408.71 212.60,407.90 212.73,408.71 212.87,410.72 213.00,413.03 213.13,414.91 213.27,416.12 213.40,416.81 213.53,417.22 213.67,417.50 213.80,417.73 213.93,417.93 214.07,418.11 214.20,418.26 214.33,418.39 214.47,418.50 214.60,418.58 214.73,418.64 214.87,418.69 215.00,418.73 215.13,418.75 215.27,418.77 215.40,418.78 215.53,418.79 215.67,418.79 215.80,418.80" fill="none" stroke="#17691f" stroke-width="1.15" stroke-linejoin="round"/>
<polyline points="236.50,418.80 236.63,418.79 236.77,418.79 236.90,418.78 237.03,418.77 237.17,418.75 237.30,418.73 237.43,418.69 237.57,418.64 237.70,418.58 237.83,418.50 237.97,418.39 238.10,418.26 238.23,418.11 238.37,417.93 238.50,417.73 238.63,417.50 238.77,417.22 238.90,416.84 239.03,416.21 239.17,415.14 239.30,413.48 239.43,411.46 239.57,409.71 239.70,409.00 239.83,409.71 239.97,411.46 240.10,413.48 240.23,415.14 240.37,416.21 240.50,416.84 240.63,417.22 240.77,417.50 240.90,417.73 241.03,417.93 241.17,418.11 241.30,418.26 241.43,418.39 241.57,418.50 241.70,418.58 241.83,418.64 241.97,418.69 242.10,418.73 242.23,418.75 242.37,418.77 242.50,418.78 242.63,418.79 242.77,418.79 242.90,418.80" fill="none" stroke="#17691f" stroke-width="1.15" stroke-linejoin="round"/>
<polyline points="296.90,418.80 297.03,418.79 297.17,418.79 297.30,418.78 297.43,418.77 297.57,418.75 297.70,418.73 297.83,418.69 297.97,418.64 298.10,418.58 298.23,418.50 298.37,418.39 298.50,418.26 298.63,418.11 298.77,417.93 298.90,417.73 299.03,417.49 299.17,417.17 299.30,416.66 299.43,415.68 299.57,413.84 299.70,410.89 299.83,407.22 299.97,404.00 300.10,402.70 300.23,404.00 300.37,407.22 300.50,410.89 300.63,413.84 300.77,415.68 300.90,416.66 301.03,417.17 301.17,417.49 301.30,417.73 301.43,417.93 301.57,418.11 301.70,418.26 301.83,418.39 301.97,418.50 302.10,418.58 302.23,418.64 302.37,418.69 302.50,418.73 302.63,418.75 302.77,418.77 302.90,418.78 303.03,418.79 303.17,418.79 303.30,418.80" fill="none" stroke="#17691f" stroke-width="1.15" stroke-linejoin="round"/>
<polyline points="376.40,418.80 376.53,418.79 376.67,418.79 376.80,418.79 376.93,418.78 377.07,418.77 377.20,418.75 377.33,418.73 377.47,418.70 377.60,418.65 377.73,418.60 377.87,418.53 378.00,418.44 378.13,418.34 378.27,418.22 378.40,418.08 378.53,417.93 378.67,417.75 378.80,417.51 378.93,417.13 379.07,416.50 379.20,415.55 379.33,414.40 379.47,413.40 379.60,413.00 379.73,413.40 379.87,414.40 380.00,415.55 380.13,416.50 380.27,417.13 380.40,417.51 380.53,417.75 380.67,417.93 380.80,418.08 380.93,418.22 381.07,418.34 381.20,418.44 381.33,418.53 381.47,418.60 381.60,418.65 381.73,418.70 381.87,418.73 382.00,418.75 382.13,418.77 382.27,418.78 382.40,418.79 382.53,418.79 382.67,418.79 382.80,418.80" fill="none" stroke="#17691f" stroke-width="1.15" stroke-linejoin="round"/>
<polyline points="390.40,418.80 390.53,418.80 390.67,418.80 390.80,418.80 390.93,418.79 391.07,418.78 391.20,418.77 391.33,418.75 391.47,418.72 391.60,418.66 391.73,418.58 391.87,418.47 392.00,418.31 392.13,418.09 392.27,417.81 392.40,417.47 392.53,417.05 392.67,416.59 392.80,416.08 392.93,415.57 393.07,415.07 393.20,414.64 393.33,414.29 393.47,414.08 393.60,414.00 393.73,414.08 393.87,414.29 394.00,414.64 394.13,415.07 394.27,415.57 394.40,416.08 394.53,416.59 394.67,417.05 394.80,417.47 394.93,417.81 395.07,418.09 395.20,418.31 395.33,418.47 395.47,418.58 395.60,418.66 395.73,418.72 395.87,418.75 396.00,418.77 396.13,418.78 396.27,418.79 396.40,418.80 396.53,418.80 396.67,418.80 396.80,418.80" fill="none" stroke="#17691f" stroke-width="1.1" stroke-linejoin="round"/>
<rect x="65.1" y="419.6" width="1" height="2.0" fill="#555"/>
<rect x="61.3" y="421.3" width="8.6" height="8.3" rx="0.8" fill="#fff" stroke="#3a3a3a" stroke-width="1"/>
<text x="65.6" y="428.1" font-family="Liberation Sans, Arial, sans-serif" font-size="6.3" font-weight="normal" text-anchor="middle" fill="#000" stroke="#000" stroke-width="0.15" letter-spacing="-0.3">16</text>
<rect x="157.4" y="419.6" width="1" height="2.0" fill="#555"/>
<rect x="155.0" y="421.3" width="5.8" height="8.3" rx="0.8" fill="#fff" stroke="#3a3a3a" stroke-width="1"/>
<text x="157.9" y="428.1" font-family="Liberation Sans, Arial, sans-serif" font-size="6.3" font-weight="normal" text-anchor="middle" fill="#000" stroke="#000" stroke-width="0.15" letter-spacing="-0.3">9</text>
<rect x="162.5" y="419.6" width="1" height="12.0" fill="#555"/>
<rect x="157.9" y="431.3" width="10.2" height="8.3" rx="0.8" fill="#fff" stroke="#3a3a3a" stroke-width="1"/>
<text x="163.0" y="438.1" font-family="Liberation Sans, Arial, sans-serif" font-size="6.3" font-weight="normal" text-anchor="middle" fill="#000" stroke="#000" stroke-width="0.15" letter-spacing="-0.3">9.3</text>
<rect x="211.9" y="419.6" width="1" height="2.0" fill="#555"/>
<rect x="209.6" y="421.3" width="5.7" height="8.3" rx="0.8" fill="#fff" stroke="#3a3a3a" stroke-width="1"/>
<text x="212.4" y="428.1" font-family="Liberation Sans, Arial, sans-serif" font-size="6.3" font-weight="normal" text-anchor="middle" fill="#000" stroke="#000" stroke-width="0.15" letter-spacing="-0.3">8</text>
<rect x="239.6" y="419.6" width="1" height="2.0" fill="#555"/>
<rect x="236.0" y="421.3" width="8.1" height="8.3" rx="0.8" fill="#fff" stroke="#3a3a3a" stroke-width="1"/>
<text x="240.1" y="428.1" font-family="Liberation Sans, Arial, sans-serif" font-size="6.3" font-weight="normal" text-anchor="middle" fill="#000" stroke="#000" stroke-width="0.15" letter-spacing="-0.3">12</text>
<rect x="299.5" y="419.6" width="1" height="2.0" fill="#555"/>
<rect x="297.3" y="421.3" width="5.4" height="8.3" rx="0.8" fill="#fff" stroke="#3a3a3a" stroke-width="1"/>
<text x="300.0" y="428.1" font-family="Liberation Sans, Arial, sans-serif" font-size="6.3" font-weight="normal" text-anchor="middle" fill="#000" stroke="#000" stroke-width="0.15" letter-spacing="-0.3">9</text>
<rect x="378.9" y="419.6" width="1" height="2.0" fill="#555"/>
<rect x="375.1" y="421.3" width="8.5" height="8.3" rx="0.8" fill="#fff" stroke="#3a3a3a" stroke-width="1"/>
<text x="379.4" y="428.1" font-family="Liberation Sans, Arial, sans-serif" font-size="6.3" font-weight="normal" text-anchor="middle" fill="#000" stroke="#000" stroke-width="0.15" letter-spacing="-0.3">17</text>
<rect x="393.2" y="419.6" width="1" height="2.0" fill="#555"/>
<rect x="389.5" y="421.3" width="8.4" height="8.3" rx="0.8" fill="#fff" stroke="#3a3a3a" stroke-width="1"/>
<text x="393.7" y="428.1" font-family="Liberation Sans, Arial, sans-serif" font-size="6.3" font-weight="normal" text-anchor="middle" fill="#000" stroke="#000" stroke-width="0.15" letter-spacing="-0.3">19</text>
<rect x="163.0" y="418.8" width="1" height="12.0" fill="#8a8a8a"/>
<rect x="498.1" y="386.7" width="1.1" height="32.7" fill="#222"/>
<rect x="498.6" y="396.1" width="3.6" height="1" fill="#222"/>
<text x="502.8" y="398.9" font-family="Liberation Sans, Arial, sans-serif" font-size="6.3" font-weight="normal" text-anchor="start" fill="#000" stroke="#000" stroke-width="0.25" textLength="12.8" lengthAdjust="spacingAndGlyphs">2000</text>
<rect x="498.6" y="406.9" width="3.6" height="1" fill="#222"/>
<text x="502.8" y="409.7" font-family="Liberation Sans, Arial, sans-serif" font-size="6.3" font-weight="normal" text-anchor="start" fill="#000" stroke="#000" stroke-width="0.25" textLength="12.8" lengthAdjust="spacingAndGlyphs">1000</text>
<rect x="498.6" y="418.2" width="3.6" height="1" fill="#222"/>
<rect x="498.6" y="390.8" width="2" height="1" fill="#222"/>
<rect x="498.6" y="401.5" width="2" height="1" fill="#222"/>
<rect x="498.6" y="412.8" width="2" height="1" fill="#222"/></svg></body></html>
